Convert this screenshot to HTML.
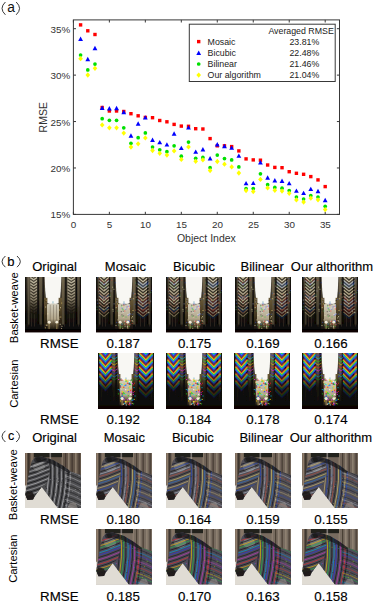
<!DOCTYPE html>
<html><head><meta charset="utf-8"><style>
html,body{margin:0;padding:0;background:#fff;}
body{width:375px;height:602px;position:relative;overflow:hidden;font-family:"Liberation Sans",sans-serif;color:#111;}
.abs{position:absolute;left:0;top:0;}
.im{position:absolute;display:block;}
.t{position:absolute;white-space:nowrap;line-height:1;}
.k{color:#000;-webkit-text-stroke:0.3px #000;}
</style></head><body>
<svg width="0" height="0" style="position:absolute"><defs><filter id="soft" x="0" y="0" width="1" height="1"><feGaussianBlur stdDeviation="0.45" edgeMode="duplicate"/></filter>
<linearGradient id="gbL" x1="0" y1="0" x2="0" y2="1"><stop offset="0" stop-color="#5a5140"/><stop offset="0.4" stop-color="#3c3528"/><stop offset="0.68" stop-color="#17140f"/><stop offset="1" stop-color="#0a0907"/></linearGradient>
<linearGradient id="gbC" x1="0" y1="0" x2="0" y2="1"><stop offset="0" stop-color="#d4d0c0"/><stop offset="0.6" stop-color="#b0a488"/><stop offset="0.78" stop-color="#5a4e36"/><stop offset="1" stop-color="#1a160e"/></linearGradient>
<linearGradient id="gbT" x1="0" y1="0" x2="0" y2="1"><stop offset="0" stop-color="#6a5a38"/><stop offset="0.6" stop-color="#40341e"/><stop offset="1" stop-color="#181410"/></linearGradient>
<linearGradient id="gbS" x1="0" y1="0" x2="0" y2="1"><stop offset="0" stop-color="#c8c0a8"/><stop offset="0.6" stop-color="#8a806a"/><stop offset="1" stop-color="#2c261b" stop-opacity="0"/></linearGradient>
<linearGradient id="gbD" x1="0" y1="0" x2="0" y2="1"><stop offset="0" stop-color="#0b0a07" stop-opacity="0"/><stop offset="0.45" stop-color="#0b0a07" stop-opacity="0.75"/><stop offset="1" stop-color="#0b0a07" stop-opacity="0.95"/></linearGradient><symbol id="bldo" viewBox="0 0 56 56"><g filter="url(#soft)"><rect width="56" height="56" fill="#0c0b08"/><path d="M0 0H19.6L20.2 14L21 21V56H0Z" fill="url(#gbL)"/><path d="M36.4 0H56V56H35V21L35.8 14Z" fill="url(#gbL)"/><rect x="0" y="0" width="1.6" height="48" fill="#000" opacity="0.75"/><rect x="3.2" y="0" width="1.2" height="48" fill="#8a8068" opacity="0.5"/><rect x="12.3" y="0" width="1.5" height="48" fill="#050403" opacity="0.85"/><rect x="14.5" y="0" width="2.4" height="48" fill="#7a6e55" opacity="0.45"/><rect x="17.5" y="0" width="1.4" height="48" fill="#050403" opacity="0.7"/><rect x="37" y="0" width="2.2" height="48" fill="#8a7c5c" opacity="0.5"/><rect x="40.2" y="0" width="1.4" height="48" fill="#050403" opacity="0.85"/><rect x="50.5" y="0" width="1.6" height="48" fill="#050403" opacity="0.85"/><rect x="52.6" y="0" width="2" height="48" fill="#6a604c" opacity="0.5"/><rect x="54.8" y="0" width="1.2" height="48" fill="#000" opacity="0.75"/><rect x="2.5" y="30" width="1" height="20" fill="#3a3224" opacity="0.6"/><rect x="6" y="30" width="1" height="20" fill="#3a3224" opacity="0.6"/><rect x="9" y="30" width="1" height="20" fill="#3a3224" opacity="0.6"/><rect x="15.5" y="30" width="1" height="20" fill="#3a3224" opacity="0.6"/><rect x="39" y="30" width="1" height="20" fill="#3a3224" opacity="0.6"/><rect x="44" y="30" width="1" height="20" fill="#3a3224" opacity="0.6"/><rect x="48" y="30" width="1" height="20" fill="#3a3224" opacity="0.6"/><rect x="53" y="30" width="1" height="20" fill="#3a3224" opacity="0.6"/><path d="M19.6 0H36.4L35.8 14L35 22L34 26.5L30 27.5L26 27.5L22 26.5L21 22L20.2 14Z" fill="#f8f7f3"/><rect x="19" y="21" width="3.4" height="32" fill="url(#gbT)"/><rect x="33.6" y="21" width="3.4" height="32" fill="url(#gbT)"/><path d="M22 27.5L25 27L28 26.5L31 27L34 27.5V53H22Z" fill="url(#gbC)"/><rect x="27.3" y="24.5" width="1.3" height="2.2" fill="#a8c8d0"/><rect x="23.5" y="46" width="1.2" height="7" fill="#c8b070" opacity="0.6"/><rect x="31.2" y="46" width="1.2" height="7" fill="#c8b070" opacity="0.6"/><rect x="5.3" y="0" width="6.8" height="38" fill="url(#gbS)"/><rect x="42.5" y="0" width="7.6" height="38" fill="url(#gbS)"/><path d="M5.3 -1.0L8.7 1.4L12.1 -1.0" stroke="#1a150e" stroke-width="1.10" fill="none" opacity="0.75"/><path d="M5.3 2.0L8.7 4.4L12.1 2.0" stroke="#1a150e" stroke-width="1.10" fill="none" opacity="0.75"/><path d="M5.3 5.0L8.7 7.4L12.1 5.0" stroke="#1a150e" stroke-width="1.10" fill="none" opacity="0.75"/><path d="M5.3 8.0L8.7 10.4L12.1 8.0" stroke="#1a150e" stroke-width="1.10" fill="none" opacity="0.75"/><path d="M5.3 11.0L8.7 13.4L12.1 11.0" stroke="#1a150e" stroke-width="1.10" fill="none" opacity="0.75"/><path d="M5.3 14.0L8.7 16.4L12.1 14.0" stroke="#1a150e" stroke-width="1.10" fill="none" opacity="0.75"/><path d="M5.3 17.0L8.7 19.4L12.1 17.0" stroke="#1a150e" stroke-width="1.10" fill="none" opacity="0.75"/><path d="M5.3 20.0L8.7 22.4L12.1 20.0" stroke="#1a150e" stroke-width="1.10" fill="none" opacity="0.75"/><path d="M5.3 23.0L8.7 25.4L12.1 23.0" stroke="#1a150e" stroke-width="1.10" fill="none" opacity="0.75"/><path d="M5.3 26.0L8.7 28.4L12.1 26.0" stroke="#1a150e" stroke-width="1.10" fill="none" opacity="0.75"/><path d="M5.3 29.0L8.7 31.4L12.1 29.0" stroke="#1a150e" stroke-width="1.10" fill="none" opacity="0.75"/><path d="M5.3 32.0L8.7 34.4L12.1 32.0" stroke="#1a150e" stroke-width="1.10" fill="none" opacity="0.75"/><path d="M5.3 35.0L8.7 37.4L12.1 35.0" stroke="#1a150e" stroke-width="1.10" fill="none" opacity="0.75"/><path d="M42.5 -1.0L46.3 1.4L50.1 -1.0" stroke="#1a150e" stroke-width="1.10" fill="none" opacity="0.75"/><path d="M42.5 2.0L46.3 4.4L50.1 2.0" stroke="#1a150e" stroke-width="1.10" fill="none" opacity="0.75"/><path d="M42.5 5.0L46.3 7.4L50.1 5.0" stroke="#1a150e" stroke-width="1.10" fill="none" opacity="0.75"/><path d="M42.5 8.0L46.3 10.4L50.1 8.0" stroke="#1a150e" stroke-width="1.10" fill="none" opacity="0.75"/><path d="M42.5 11.0L46.3 13.4L50.1 11.0" stroke="#1a150e" stroke-width="1.10" fill="none" opacity="0.75"/><path d="M42.5 14.0L46.3 16.4L50.1 14.0" stroke="#1a150e" stroke-width="1.10" fill="none" opacity="0.75"/><path d="M42.5 17.0L46.3 19.4L50.1 17.0" stroke="#1a150e" stroke-width="1.10" fill="none" opacity="0.75"/><path d="M42.5 20.0L46.3 22.4L50.1 20.0" stroke="#1a150e" stroke-width="1.10" fill="none" opacity="0.75"/><path d="M42.5 23.0L46.3 25.4L50.1 23.0" stroke="#1a150e" stroke-width="1.10" fill="none" opacity="0.75"/><path d="M42.5 26.0L46.3 28.4L50.1 26.0" stroke="#1a150e" stroke-width="1.10" fill="none" opacity="0.75"/><path d="M42.5 29.0L46.3 31.4L50.1 29.0" stroke="#1a150e" stroke-width="1.10" fill="none" opacity="0.75"/><path d="M42.5 32.0L46.3 34.4L50.1 32.0" stroke="#1a150e" stroke-width="1.10" fill="none" opacity="0.75"/><path d="M42.5 35.0L46.3 37.4L50.1 35.0" stroke="#1a150e" stroke-width="1.10" fill="none" opacity="0.75"/><rect x="24.8" y="28" width="0.8" height="23" fill="#5a5040" opacity="0.45"/><rect x="28" y="28" width="0.8" height="23" fill="#5a5040" opacity="0.45"/><rect x="31" y="28" width="0.8" height="23" fill="#5a5040" opacity="0.45"/><rect x="20.2" y="38.8" width="1.0" height="1.0" fill="#2a2010" opacity="0.70"/><rect x="22.3" y="36.7" width="1.0" height="1.0" fill="#fff0c0" opacity="0.70"/><rect x="19.6" y="23.4" width="1.0" height="1.0" fill="#2a2010" opacity="0.70"/><rect x="20.2" y="29.8" width="1.0" height="1.0" fill="#fff0c0" opacity="0.70"/><rect x="20.9" y="47.3" width="1.0" height="1.0" fill="#2a2010" opacity="0.70"/><rect x="20.7" y="48.0" width="1.0" height="1.0" fill="#e8c870" opacity="0.70"/><rect x="21.4" y="48.2" width="1.0" height="1.0" fill="#fff0c0" opacity="0.70"/><rect x="20.6" y="23.4" width="1.0" height="1.0" fill="#e8c870" opacity="0.70"/><rect x="19.9" y="50.8" width="1.0" height="1.0" fill="#e8c870" opacity="0.70"/><rect x="20.4" y="23.9" width="1.0" height="1.0" fill="#2a2010" opacity="0.70"/><rect x="20.9" y="43.8" width="1.0" height="1.0" fill="#2a2010" opacity="0.70"/><rect x="21.7" y="49.7" width="1.0" height="1.0" fill="#2a2010" opacity="0.70"/><rect x="35.7" y="39.7" width="1.0" height="1.0" fill="#e8c870" opacity="0.70"/><rect x="36.2" y="25.8" width="1.0" height="1.0" fill="#e8c870" opacity="0.70"/><rect x="35.0" y="30.5" width="1.0" height="1.0" fill="#fff0c0" opacity="0.70"/><rect x="34.8" y="41.2" width="1.0" height="1.0" fill="#2a2010" opacity="0.70"/><rect x="34.7" y="47.2" width="1.0" height="1.0" fill="#fff0c0" opacity="0.70"/><rect x="34.5" y="40.0" width="1.0" height="1.0" fill="#fff0c0" opacity="0.70"/><rect x="34.1" y="32.8" width="1.0" height="1.0" fill="#e8c870" opacity="0.70"/><rect x="36.1" y="51.7" width="1.0" height="1.0" fill="#fff0c0" opacity="0.70"/><rect x="35.6" y="43.3" width="1.0" height="1.0" fill="#2a2010" opacity="0.70"/><rect x="36.5" y="49.2" width="1.0" height="1.0" fill="#fff0c0" opacity="0.70"/><rect x="33.7" y="42.0" width="1.0" height="1.0" fill="#fff0c0" opacity="0.70"/><rect x="36.1" y="39.6" width="1.0" height="1.0" fill="#2a2010" opacity="0.70"/><circle cx="24.2" cy="45.6" r="1.5" fill="#fffae8" opacity="0.9"/><circle cx="31.8" cy="45.6" r="1.4" fill="#fffae8" opacity="0.9"/><rect x="0" y="52.5" width="56" height="3.5" fill="#070605"/></g></symbol><symbol id="bldb" viewBox="0 0 56 56"><g filter="url(#soft)"><rect width="56" height="56" fill="#0c0b08"/><path d="M0 0H19.6L20.2 14L21 21V56H0Z" fill="url(#gbL)"/><path d="M36.4 0H56V56H35V21L35.8 14Z" fill="url(#gbL)"/><rect x="0" y="0" width="1.6" height="48" fill="#000" opacity="0.75"/><rect x="3.2" y="0" width="1.2" height="48" fill="#8a8068" opacity="0.5"/><rect x="12.3" y="0" width="1.5" height="48" fill="#050403" opacity="0.85"/><rect x="14.5" y="0" width="2.4" height="48" fill="#7a6e55" opacity="0.45"/><rect x="17.5" y="0" width="1.4" height="48" fill="#050403" opacity="0.7"/><rect x="37" y="0" width="2.2" height="48" fill="#8a7c5c" opacity="0.5"/><rect x="40.2" y="0" width="1.4" height="48" fill="#050403" opacity="0.85"/><rect x="50.5" y="0" width="1.6" height="48" fill="#050403" opacity="0.85"/><rect x="52.6" y="0" width="2" height="48" fill="#6a604c" opacity="0.5"/><rect x="54.8" y="0" width="1.2" height="48" fill="#000" opacity="0.75"/><rect x="2.5" y="30" width="1" height="20" fill="#3a3224" opacity="0.6"/><rect x="6" y="30" width="1" height="20" fill="#3a3224" opacity="0.6"/><rect x="9" y="30" width="1" height="20" fill="#3a3224" opacity="0.6"/><rect x="15.5" y="30" width="1" height="20" fill="#3a3224" opacity="0.6"/><rect x="39" y="30" width="1" height="20" fill="#3a3224" opacity="0.6"/><rect x="44" y="30" width="1" height="20" fill="#3a3224" opacity="0.6"/><rect x="48" y="30" width="1" height="20" fill="#3a3224" opacity="0.6"/><rect x="53" y="30" width="1" height="20" fill="#3a3224" opacity="0.6"/><path d="M19.6 0H36.4L35.8 14L35 22L34 26.5L30 27.5L26 27.5L22 26.5L21 22L20.2 14Z" fill="#f8f7f3"/><rect x="19" y="21" width="3.4" height="32" fill="url(#gbT)"/><rect x="33.6" y="21" width="3.4" height="32" fill="url(#gbT)"/><path d="M22 27.5L25 27L28 26.5L31 27L34 27.5V53H22Z" fill="url(#gbC)"/><rect x="27.3" y="24.5" width="1.3" height="2.2" fill="#a8c8d0"/><rect x="23.5" y="46" width="1.2" height="7" fill="#c8b070" opacity="0.6"/><rect x="31.2" y="46" width="1.2" height="7" fill="#c8b070" opacity="0.6"/><rect x="4" y="0" width="8.6" height="38" fill="url(#gbS)"/><rect x="42" y="0" width="9" height="40" fill="url(#gbS)"/><path d="M3.0 -3.0L8.0 1.5L13.0 -3.0" stroke="#f0f0d0" stroke-width="1.20" fill="none" opacity="0.45"/><path d="M3.0 0.2L8.0 4.7L13.0 0.2" stroke="#d8c890" stroke-width="1.20" fill="none" opacity="0.45"/><path d="M3.0 3.4L8.0 7.9L13.0 3.4" stroke="#90a8d0" stroke-width="1.20" fill="none" opacity="0.45"/><path d="M3.0 6.6L8.0 11.1L13.0 6.6" stroke="#a0c890" stroke-width="1.20" fill="none" opacity="0.45"/><path d="M3.0 9.8L8.0 14.3L13.0 9.8" stroke="#e0d8b8" stroke-width="1.20" fill="none" opacity="0.45"/><path d="M3.0 13.0L8.0 17.5L13.0 13.0" stroke="#e0d8b8" stroke-width="1.20" fill="none" opacity="0.45"/><path d="M3.0 16.2L8.0 20.7L13.0 16.2" stroke="#d09070" stroke-width="1.20" fill="none" opacity="0.45"/><path d="M3.0 19.4L8.0 23.9L13.0 19.4" stroke="#e0d8b8" stroke-width="1.20" fill="none" opacity="0.45"/><path d="M3.0 22.6L8.0 27.1L13.0 22.6" stroke="#f0f0d0" stroke-width="1.20" fill="none" opacity="0.45"/><path d="M3.0 25.8L8.0 30.3L13.0 25.8" stroke="#d09070" stroke-width="1.20" fill="none" opacity="0.45"/><path d="M3.0 29.0L8.0 33.5L13.0 29.0" stroke="#e0d8b8" stroke-width="1.20" fill="none" opacity="0.45"/><path d="M3.0 32.2L8.0 36.7L13.0 32.2" stroke="#d09070" stroke-width="1.20" fill="none" opacity="0.45"/><path d="M3.0 35.4L8.0 39.9L13.0 35.4" stroke="#d8c890" stroke-width="1.20" fill="none" opacity="0.45"/><path d="M41.5 -3.0L47.0 1.5L52.5 -3.0" stroke="#e0d8b8" stroke-width="1.20" fill="none" opacity="0.45"/><path d="M41.5 0.2L47.0 4.7L52.5 0.2" stroke="#e0d8b8" stroke-width="1.20" fill="none" opacity="0.45"/><path d="M41.5 3.4L47.0 7.9L52.5 3.4" stroke="#90a8d0" stroke-width="1.20" fill="none" opacity="0.45"/><path d="M41.5 6.6L47.0 11.1L52.5 6.6" stroke="#90a8d0" stroke-width="1.20" fill="none" opacity="0.45"/><path d="M41.5 9.8L47.0 14.3L52.5 9.8" stroke="#e0d8b8" stroke-width="1.20" fill="none" opacity="0.45"/><path d="M41.5 13.0L47.0 17.5L52.5 13.0" stroke="#d8c890" stroke-width="1.20" fill="none" opacity="0.45"/><path d="M41.5 16.2L47.0 20.7L52.5 16.2" stroke="#e0d8b8" stroke-width="1.20" fill="none" opacity="0.45"/><path d="M41.5 19.4L47.0 23.9L52.5 19.4" stroke="#d09070" stroke-width="1.20" fill="none" opacity="0.45"/><path d="M41.5 22.6L47.0 27.1L52.5 22.6" stroke="#90a8d0" stroke-width="1.20" fill="none" opacity="0.45"/><path d="M41.5 25.8L47.0 30.3L52.5 25.8" stroke="#e0d8b8" stroke-width="1.20" fill="none" opacity="0.45"/><path d="M41.5 29.0L47.0 33.5L52.5 29.0" stroke="#d09070" stroke-width="1.20" fill="none" opacity="0.45"/><path d="M41.5 32.2L47.0 36.7L52.5 32.2" stroke="#e0d8b8" stroke-width="1.20" fill="none" opacity="0.45"/><path d="M41.5 35.4L47.0 39.9L52.5 35.4" stroke="#d8c890" stroke-width="1.20" fill="none" opacity="0.45"/><path d="M3.0 -1.4L8.0 3.1L13.0 -1.4" stroke="#120e08" stroke-width="1.30" fill="none" opacity="0.75"/><path d="M3.0 1.8L8.0 6.3L13.0 1.8" stroke="#401010" stroke-width="1.30" fill="none" opacity="0.75"/><path d="M3.0 5.0L8.0 9.5L13.0 5.0" stroke="#120e08" stroke-width="1.30" fill="none" opacity="0.75"/><path d="M3.0 8.2L8.0 12.7L13.0 8.2" stroke="#201810" stroke-width="1.30" fill="none" opacity="0.75"/><path d="M3.0 11.4L8.0 15.9L13.0 11.4" stroke="#120e08" stroke-width="1.30" fill="none" opacity="0.75"/><path d="M3.0 14.6L8.0 19.1L13.0 14.6" stroke="#201810" stroke-width="1.30" fill="none" opacity="0.75"/><path d="M3.0 17.8L8.0 22.3L13.0 17.8" stroke="#102040" stroke-width="1.30" fill="none" opacity="0.75"/><path d="M3.0 21.0L8.0 25.5L13.0 21.0" stroke="#401010" stroke-width="1.30" fill="none" opacity="0.75"/><path d="M3.0 24.2L8.0 28.7L13.0 24.2" stroke="#201810" stroke-width="1.30" fill="none" opacity="0.75"/><path d="M3.0 27.4L8.0 31.9L13.0 27.4" stroke="#120e08" stroke-width="1.30" fill="none" opacity="0.75"/><path d="M3.0 30.6L8.0 35.1L13.0 30.6" stroke="#102040" stroke-width="1.30" fill="none" opacity="0.75"/><path d="M3.0 33.8L8.0 38.3L13.0 33.8" stroke="#201810" stroke-width="1.30" fill="none" opacity="0.75"/><path d="M41.5 -1.4L47.0 3.1L52.5 -1.4" stroke="#120e08" stroke-width="1.30" fill="none" opacity="0.75"/><path d="M41.5 1.8L47.0 6.3L52.5 1.8" stroke="#201810" stroke-width="1.30" fill="none" opacity="0.75"/><path d="M41.5 5.0L47.0 9.5L52.5 5.0" stroke="#102040" stroke-width="1.30" fill="none" opacity="0.75"/><path d="M41.5 8.2L47.0 12.7L52.5 8.2" stroke="#120e08" stroke-width="1.30" fill="none" opacity="0.75"/><path d="M41.5 11.4L47.0 15.9L52.5 11.4" stroke="#120e08" stroke-width="1.30" fill="none" opacity="0.75"/><path d="M41.5 14.6L47.0 19.1L52.5 14.6" stroke="#120e08" stroke-width="1.30" fill="none" opacity="0.75"/><path d="M41.5 17.8L47.0 22.3L52.5 17.8" stroke="#201810" stroke-width="1.30" fill="none" opacity="0.75"/><path d="M41.5 21.0L47.0 25.5L52.5 21.0" stroke="#401010" stroke-width="1.30" fill="none" opacity="0.75"/><path d="M41.5 24.2L47.0 28.7L52.5 24.2" stroke="#401010" stroke-width="1.30" fill="none" opacity="0.75"/><path d="M41.5 27.4L47.0 31.9L52.5 27.4" stroke="#102040" stroke-width="1.30" fill="none" opacity="0.75"/><path d="M41.5 30.6L47.0 35.1L52.5 30.6" stroke="#401010" stroke-width="1.30" fill="none" opacity="0.75"/><path d="M41.5 33.8L47.0 38.3L52.5 33.8" stroke="#401010" stroke-width="1.30" fill="none" opacity="0.75"/><path d="M41.5 37.0L47.0 41.5L52.5 37.0" stroke="#102040" stroke-width="1.30" fill="none" opacity="0.75"/><rect x="5.8" y="27.0" width="1.2" height="1.2" fill="#181818" opacity="0.45"/><rect x="15.2" y="2.8" width="1.2" height="1.2" fill="#c04838" opacity="0.45"/><rect x="10.2" y="29.8" width="1.2" height="1.2" fill="#181818" opacity="0.45"/><rect x="8.8" y="20.7" width="1.2" height="1.2" fill="#d8c890" opacity="0.45"/><rect x="2.3" y="14.2" width="1.2" height="1.2" fill="#a0a0c0" opacity="0.45"/><rect x="6.7" y="31.7" width="1.2" height="1.2" fill="#e8e8b0" opacity="0.45"/><rect x="0.8" y="22.7" width="1.2" height="1.2" fill="#a0a0c0" opacity="0.45"/><rect x="10.9" y="26.8" width="1.2" height="1.2" fill="#a0a0c0" opacity="0.45"/><rect x="6.1" y="23.6" width="1.2" height="1.2" fill="#40a060" opacity="0.45"/><rect x="9.7" y="27.1" width="1.2" height="1.2" fill="#d8c890" opacity="0.45"/><rect x="16.4" y="32.1" width="1.2" height="1.2" fill="#e8e8b0" opacity="0.45"/><rect x="13.6" y="2.2" width="1.2" height="1.2" fill="#181818" opacity="0.45"/><rect x="13.7" y="22.0" width="1.2" height="1.2" fill="#181818" opacity="0.45"/><rect x="16.0" y="9.7" width="1.2" height="1.2" fill="#e8e8b0" opacity="0.45"/><rect x="17.3" y="11.8" width="1.2" height="1.2" fill="#e8e8b0" opacity="0.45"/><rect x="6.9" y="20.8" width="1.2" height="1.2" fill="#e8e8b0" opacity="0.45"/><rect x="1.1" y="26.1" width="1.2" height="1.2" fill="#3050b0" opacity="0.45"/><rect x="14.4" y="13.5" width="1.2" height="1.2" fill="#a0a0c0" opacity="0.45"/><rect x="9.7" y="5.7" width="1.2" height="1.2" fill="#e8e8b0" opacity="0.45"/><rect x="10.7" y="30.0" width="1.2" height="1.2" fill="#a0a0c0" opacity="0.45"/><rect x="8.4" y="18.7" width="1.2" height="1.2" fill="#181818" opacity="0.45"/><rect x="8.1" y="12.2" width="1.2" height="1.2" fill="#e8e8b0" opacity="0.45"/><rect x="18.7" y="5.1" width="1.2" height="1.2" fill="#3050b0" opacity="0.45"/><rect x="3.0" y="22.4" width="1.2" height="1.2" fill="#d8c890" opacity="0.45"/><rect x="9.5" y="20.0" width="1.2" height="1.2" fill="#c04838" opacity="0.45"/><rect x="5.5" y="5.0" width="1.2" height="1.2" fill="#40a060" opacity="0.45"/><rect x="7.2" y="19.3" width="1.2" height="1.2" fill="#3050b0" opacity="0.45"/><rect x="13.5" y="17.5" width="1.2" height="1.2" fill="#40a060" opacity="0.45"/><rect x="12.8" y="25.2" width="1.2" height="1.2" fill="#e8e8b0" opacity="0.45"/><rect x="17.5" y="26.5" width="1.2" height="1.2" fill="#a0a0c0" opacity="0.45"/><rect x="13.3" y="19.0" width="1.2" height="1.2" fill="#e8e8b0" opacity="0.45"/><rect x="7.8" y="3.5" width="1.2" height="1.2" fill="#181818" opacity="0.45"/><rect x="7.8" y="6.5" width="1.2" height="1.2" fill="#3050b0" opacity="0.45"/><rect x="8.6" y="3.7" width="1.2" height="1.2" fill="#40a060" opacity="0.45"/><rect x="1.0" y="0.0" width="1.2" height="1.2" fill="#3050b0" opacity="0.45"/><rect x="10.5" y="32.3" width="1.2" height="1.2" fill="#40a060" opacity="0.45"/><rect x="0.5" y="29.7" width="1.2" height="1.2" fill="#40a060" opacity="0.45"/><rect x="7.3" y="21.6" width="1.2" height="1.2" fill="#c04838" opacity="0.45"/><rect x="11.7" y="16.1" width="1.2" height="1.2" fill="#d8c890" opacity="0.45"/><rect x="16.6" y="33.8" width="1.2" height="1.2" fill="#e8e8b0" opacity="0.45"/><rect x="9.4" y="10.6" width="1.2" height="1.2" fill="#3050b0" opacity="0.45"/><rect x="2.0" y="11.6" width="1.2" height="1.2" fill="#c04838" opacity="0.45"/><rect x="9.3" y="23.5" width="1.2" height="1.2" fill="#40a060" opacity="0.45"/><rect x="0.5" y="32.3" width="1.2" height="1.2" fill="#40a060" opacity="0.45"/><rect x="7.1" y="23.5" width="1.2" height="1.2" fill="#d8c890" opacity="0.45"/><rect x="51.3" y="10.7" width="1.2" height="1.2" fill="#181818" opacity="0.45"/><rect x="53.3" y="25.1" width="1.2" height="1.2" fill="#c04838" opacity="0.45"/><rect x="46.6" y="32.7" width="1.2" height="1.2" fill="#c04838" opacity="0.45"/><rect x="51.6" y="19.2" width="1.2" height="1.2" fill="#a0a0c0" opacity="0.45"/><rect x="46.3" y="22.9" width="1.2" height="1.2" fill="#40a060" opacity="0.45"/><rect x="52.3" y="35.5" width="1.2" height="1.2" fill="#a0a0c0" opacity="0.45"/><rect x="40.3" y="8.6" width="1.2" height="1.2" fill="#e8e8b0" opacity="0.45"/><rect x="50.9" y="8.2" width="1.2" height="1.2" fill="#40a060" opacity="0.45"/><rect x="46.1" y="26.3" width="1.2" height="1.2" fill="#d8c890" opacity="0.45"/><rect x="51.9" y="17.0" width="1.2" height="1.2" fill="#3050b0" opacity="0.45"/><rect x="50.0" y="34.4" width="1.2" height="1.2" fill="#e8e8b0" opacity="0.45"/><rect x="52.3" y="26.0" width="1.2" height="1.2" fill="#c04838" opacity="0.45"/><rect x="55.1" y="13.1" width="1.2" height="1.2" fill="#3050b0" opacity="0.45"/><rect x="38.5" y="16.9" width="1.2" height="1.2" fill="#c04838" opacity="0.45"/><rect x="40.5" y="22.5" width="1.2" height="1.2" fill="#40a060" opacity="0.45"/><rect x="52.9" y="17.3" width="1.2" height="1.2" fill="#181818" opacity="0.45"/><rect x="43.2" y="23.2" width="1.2" height="1.2" fill="#a0a0c0" opacity="0.45"/><rect x="49.4" y="32.8" width="1.2" height="1.2" fill="#a0a0c0" opacity="0.45"/><rect x="50.4" y="7.2" width="1.2" height="1.2" fill="#3050b0" opacity="0.45"/><rect x="45.0" y="22.9" width="1.2" height="1.2" fill="#d8c890" opacity="0.45"/><rect x="52.1" y="35.0" width="1.2" height="1.2" fill="#e8e8b0" opacity="0.45"/><rect x="45.5" y="26.8" width="1.2" height="1.2" fill="#d8c890" opacity="0.45"/><rect x="50.6" y="6.1" width="1.2" height="1.2" fill="#3050b0" opacity="0.45"/><rect x="37.0" y="21.3" width="1.2" height="1.2" fill="#e8e8b0" opacity="0.45"/><rect x="52.2" y="5.3" width="1.2" height="1.2" fill="#a0a0c0" opacity="0.45"/><rect x="48.1" y="17.1" width="1.2" height="1.2" fill="#c04838" opacity="0.45"/><rect x="39.5" y="19.7" width="1.2" height="1.2" fill="#d8c890" opacity="0.45"/><rect x="36.8" y="35.0" width="1.2" height="1.2" fill="#181818" opacity="0.45"/><rect x="38.5" y="27.0" width="1.2" height="1.2" fill="#3050b0" opacity="0.45"/><rect x="45.0" y="31.4" width="1.2" height="1.2" fill="#a0a0c0" opacity="0.45"/><rect x="53.5" y="1.0" width="1.2" height="1.2" fill="#3050b0" opacity="0.45"/><rect x="42.2" y="8.7" width="1.2" height="1.2" fill="#40a060" opacity="0.45"/><rect x="42.9" y="19.6" width="1.2" height="1.2" fill="#a0a0c0" opacity="0.45"/><rect x="39.1" y="32.8" width="1.2" height="1.2" fill="#c04838" opacity="0.45"/><rect x="54.0" y="23.8" width="1.2" height="1.2" fill="#a0a0c0" opacity="0.45"/><rect x="54.1" y="15.1" width="1.2" height="1.2" fill="#40a060" opacity="0.45"/><rect x="39.0" y="5.5" width="1.2" height="1.2" fill="#40a060" opacity="0.45"/><rect x="36.9" y="15.8" width="1.2" height="1.2" fill="#3050b0" opacity="0.45"/><rect x="48.4" y="27.9" width="1.2" height="1.2" fill="#3050b0" opacity="0.45"/><rect x="39.9" y="17.0" width="1.2" height="1.2" fill="#181818" opacity="0.45"/><rect x="38.8" y="2.2" width="1.2" height="1.2" fill="#181818" opacity="0.45"/><rect x="46.6" y="20.0" width="1.2" height="1.2" fill="#a0a0c0" opacity="0.45"/><rect x="51.6" y="31.8" width="1.2" height="1.2" fill="#d8c890" opacity="0.45"/><rect x="41.3" y="10.0" width="1.2" height="1.2" fill="#a0a0c0" opacity="0.45"/><rect x="38.4" y="16.3" width="1.2" height="1.2" fill="#d8c890" opacity="0.45"/><rect x="30.8" y="49.7" width="1.2" height="1.2" fill="#ffffff" opacity="0.55"/><rect x="26.1" y="51.3" width="1.2" height="1.2" fill="#e0d0a0" opacity="0.55"/><rect x="28.1" y="44.0" width="1.2" height="1.2" fill="#ffffff" opacity="0.55"/><rect x="28.1" y="47.0" width="1.2" height="1.2" fill="#e0d0a0" opacity="0.55"/><rect x="32.8" y="44.2" width="1.2" height="1.2" fill="#4060ff" opacity="0.55"/><rect x="32.6" y="49.2" width="1.2" height="1.2" fill="#40c040" opacity="0.55"/><rect x="31.7" y="29.6" width="1.2" height="1.2" fill="#ff4040" opacity="0.55"/><rect x="26.8" y="34.2" width="1.2" height="1.2" fill="#404040" opacity="0.55"/><rect x="25.2" y="27.9" width="1.2" height="1.2" fill="#404040" opacity="0.55"/><rect x="25.9" y="29.2" width="1.2" height="1.2" fill="#ffe060" opacity="0.55"/><rect x="24.3" y="44.6" width="1.2" height="1.2" fill="#404040" opacity="0.55"/><rect x="26.6" y="32.6" width="1.2" height="1.2" fill="#40c040" opacity="0.55"/><rect x="33.0" y="31.7" width="1.2" height="1.2" fill="#ff4040" opacity="0.55"/><rect x="26.9" y="38.7" width="1.2" height="1.2" fill="#404040" opacity="0.55"/><rect x="31.6" y="30.2" width="1.2" height="1.2" fill="#ffffff" opacity="0.55"/><rect x="33.3" y="36.5" width="1.2" height="1.2" fill="#ffffff" opacity="0.55"/><rect x="24.7" y="34.3" width="1.2" height="1.2" fill="#404040" opacity="0.55"/><rect x="26.6" y="34.8" width="1.2" height="1.2" fill="#ffffff" opacity="0.55"/><rect x="27.4" y="26.5" width="1.2" height="1.2" fill="#4060ff" opacity="0.55"/><rect x="28.2" y="33.7" width="1.2" height="1.2" fill="#ff4040" opacity="0.55"/><rect x="23.8" y="49.9" width="1.2" height="1.2" fill="#40c040" opacity="0.55"/><rect x="33.1" y="28.7" width="1.2" height="1.2" fill="#4060ff" opacity="0.55"/><rect x="25.5" y="49.6" width="1.2" height="1.2" fill="#40c040" opacity="0.55"/><rect x="25.5" y="29.4" width="1.2" height="1.2" fill="#ffffff" opacity="0.55"/><rect x="31.8" y="43.6" width="1.2" height="1.2" fill="#4060ff" opacity="0.55"/><rect x="27.0" y="40.0" width="1.2" height="1.2" fill="#e0d0a0" opacity="0.55"/><rect x="28.8" y="44.2" width="1.2" height="1.2" fill="#ff4040" opacity="0.55"/><rect x="25.6" y="46.8" width="1.2" height="1.2" fill="#40c040" opacity="0.55"/><rect x="27.2" y="27.9" width="1.2" height="1.2" fill="#ff4040" opacity="0.55"/><rect x="29.5" y="46.8" width="1.2" height="1.2" fill="#ff4040" opacity="0.55"/><rect x="29.2" y="31.8" width="1.2" height="1.2" fill="#4060ff" opacity="0.55"/><rect x="31.9" y="37.8" width="1.2" height="1.2" fill="#4060ff" opacity="0.55"/><rect x="33.3" y="36.9" width="1.2" height="1.2" fill="#4060ff" opacity="0.55"/><rect x="29.3" y="27.1" width="1.2" height="1.2" fill="#404040" opacity="0.55"/><rect x="25.2" y="28.8" width="1.2" height="1.2" fill="#40c040" opacity="0.55"/><rect x="25.4" y="30.7" width="1.2" height="1.2" fill="#4060ff" opacity="0.55"/><rect x="29.4" y="39.8" width="1.2" height="1.2" fill="#40c040" opacity="0.55"/><rect x="25.7" y="39.0" width="1.2" height="1.2" fill="#40c040" opacity="0.55"/><rect x="25.5" y="46.9" width="1.2" height="1.2" fill="#4060ff" opacity="0.55"/><rect x="23.0" y="26.5" width="1.2" height="1.2" fill="#e0d0a0" opacity="0.55"/><rect x="28.6" y="30.9" width="1.2" height="1.2" fill="#ffffff" opacity="0.55"/><rect x="25.3" y="37.6" width="1.2" height="1.2" fill="#404040" opacity="0.55"/><rect x="31.4" y="37.2" width="1.2" height="1.2" fill="#ffffff" opacity="0.55"/><rect x="28.5" y="49.1" width="1.2" height="1.2" fill="#e0d0a0" opacity="0.55"/><rect x="25.9" y="31.6" width="1.2" height="1.2" fill="#40c040" opacity="0.55"/><rect x="26.3" y="47.6" width="1.2" height="1.2" fill="#404040" opacity="0.55"/><rect x="30.5" y="29.6" width="1.2" height="1.2" fill="#4060ff" opacity="0.55"/><rect x="33.2" y="47.8" width="1.2" height="1.2" fill="#ff4040" opacity="0.55"/><rect x="23.4" y="45.3" width="1.2" height="1.2" fill="#4060ff" opacity="0.55"/><rect x="27.3" y="27.4" width="1.2" height="1.2" fill="#404040" opacity="0.55"/><rect x="22.1" y="48.1" width="1.0" height="1.0" fill="#40a060" opacity="0.70"/><rect x="21.3" y="42.8" width="1.0" height="1.0" fill="#d8c890" opacity="0.70"/><rect x="20.9" y="26.7" width="1.0" height="1.0" fill="#e8c870" opacity="0.70"/><rect x="19.4" y="32.9" width="1.0" height="1.0" fill="#181818" opacity="0.70"/><rect x="22.5" y="38.4" width="1.0" height="1.0" fill="#e8e8b0" opacity="0.70"/><rect x="19.5" y="48.5" width="1.0" height="1.0" fill="#e8e8b0" opacity="0.70"/><rect x="20.5" y="22.0" width="1.0" height="1.0" fill="#a0a0c0" opacity="0.70"/><rect x="19.7" y="30.4" width="1.0" height="1.0" fill="#e8e8b0" opacity="0.70"/><rect x="20.2" y="45.3" width="1.0" height="1.0" fill="#3050b0" opacity="0.70"/><rect x="20.2" y="24.7" width="1.0" height="1.0" fill="#a0a0c0" opacity="0.70"/><rect x="21.3" y="33.8" width="1.0" height="1.0" fill="#40a060" opacity="0.70"/><rect x="20.4" y="29.0" width="1.0" height="1.0" fill="#c04838" opacity="0.70"/><rect x="35.5" y="43.5" width="1.0" height="1.0" fill="#a0a0c0" opacity="0.70"/><rect x="35.8" y="43.6" width="1.0" height="1.0" fill="#e8c870" opacity="0.70"/><rect x="33.9" y="43.7" width="1.0" height="1.0" fill="#c04838" opacity="0.70"/><rect x="33.5" y="47.1" width="1.0" height="1.0" fill="#a0a0c0" opacity="0.70"/><rect x="35.7" y="46.4" width="1.0" height="1.0" fill="#c04838" opacity="0.70"/><rect x="36.3" y="44.6" width="1.0" height="1.0" fill="#d8c890" opacity="0.70"/><rect x="36.0" y="39.5" width="1.0" height="1.0" fill="#e8e8b0" opacity="0.70"/><rect x="33.7" y="23.3" width="1.0" height="1.0" fill="#181818" opacity="0.70"/><rect x="36.5" y="33.3" width="1.0" height="1.0" fill="#e8c870" opacity="0.70"/><rect x="35.2" y="40.8" width="1.0" height="1.0" fill="#e8e8b0" opacity="0.70"/><rect x="35.0" y="22.1" width="1.0" height="1.0" fill="#3050b0" opacity="0.70"/><rect x="35.8" y="37.1" width="1.0" height="1.0" fill="#3050b0" opacity="0.70"/><circle cx="24.2" cy="45.6" r="1.5" fill="#fffae8" opacity="0.9"/><circle cx="31.8" cy="45.6" r="1.4" fill="#fffae8" opacity="0.9"/><rect x="0" y="52.5" width="56" height="3.5" fill="#070605"/></g></symbol><symbol id="bldc" viewBox="0 0 56 56"><g filter="url(#soft)"><rect width="56" height="56" fill="#0c0b08"/><path d="M0 0H19.6L20.2 14L21 21V56H0Z" fill="url(#gbL)"/><path d="M36.4 0H56V56H35V21L35.8 14Z" fill="url(#gbL)"/><rect x="0" y="0" width="1.6" height="48" fill="#000" opacity="0.75"/><rect x="3.2" y="0" width="1.2" height="48" fill="#8a8068" opacity="0.5"/><rect x="12.3" y="0" width="1.5" height="48" fill="#050403" opacity="0.85"/><rect x="14.5" y="0" width="2.4" height="48" fill="#7a6e55" opacity="0.45"/><rect x="17.5" y="0" width="1.4" height="48" fill="#050403" opacity="0.7"/><rect x="37" y="0" width="2.2" height="48" fill="#8a7c5c" opacity="0.5"/><rect x="40.2" y="0" width="1.4" height="48" fill="#050403" opacity="0.85"/><rect x="50.5" y="0" width="1.6" height="48" fill="#050403" opacity="0.85"/><rect x="52.6" y="0" width="2" height="48" fill="#6a604c" opacity="0.5"/><rect x="54.8" y="0" width="1.2" height="48" fill="#000" opacity="0.75"/><rect x="2.5" y="30" width="1" height="20" fill="#3a3224" opacity="0.6"/><rect x="6" y="30" width="1" height="20" fill="#3a3224" opacity="0.6"/><rect x="9" y="30" width="1" height="20" fill="#3a3224" opacity="0.6"/><rect x="15.5" y="30" width="1" height="20" fill="#3a3224" opacity="0.6"/><rect x="39" y="30" width="1" height="20" fill="#3a3224" opacity="0.6"/><rect x="44" y="30" width="1" height="20" fill="#3a3224" opacity="0.6"/><rect x="48" y="30" width="1" height="20" fill="#3a3224" opacity="0.6"/><rect x="53" y="30" width="1" height="20" fill="#3a3224" opacity="0.6"/><path d="M19.6 0H36.4L35.8 14L35 22L34 26.5L30 27.5L26 27.5L22 26.5L21 22L20.2 14Z" fill="#f8f7f3"/><rect x="19" y="21" width="3.4" height="32" fill="url(#gbT)"/><rect x="33.6" y="21" width="3.4" height="32" fill="url(#gbT)"/><path d="M22 27.5L25 27L28 26.5L31 27L34 27.5V53H22Z" fill="url(#gbC)"/><rect x="27.3" y="24.5" width="1.3" height="2.2" fill="#a8c8d0"/><rect x="23.5" y="46" width="1.2" height="7" fill="#c8b070" opacity="0.6"/><rect x="31.2" y="46" width="1.2" height="7" fill="#c8b070" opacity="0.6"/><path d="M1.5 -8.0L7.5 -1.0L13.5 -8.0" stroke="#ff2a2a" stroke-width="1.05" fill="none" opacity="0.92"/><path d="M1.5 -7.0L7.5 0.0L13.5 -7.0" stroke="#f8d820" stroke-width="1.05" fill="none" opacity="0.92"/><path d="M1.5 -6.0L7.5 1.0L13.5 -6.0" stroke="#30e030" stroke-width="1.05" fill="none" opacity="0.92"/><path d="M1.5 -5.0L7.5 2.0L13.5 -5.0" stroke="#10b0ff" stroke-width="1.05" fill="none" opacity="0.92"/><path d="M1.5 -4.0L7.5 3.0L13.5 -4.0" stroke="#3030ff" stroke-width="1.05" fill="none" opacity="0.92"/><path d="M1.5 -1.0L7.5 6.0L13.5 -1.0" stroke="#ff2a2a" stroke-width="1.05" fill="none" opacity="0.92"/><path d="M1.5 0.0L7.5 7.0L13.5 0.0" stroke="#f8d820" stroke-width="1.05" fill="none" opacity="0.92"/><path d="M1.5 1.0L7.5 8.0L13.5 1.0" stroke="#30e030" stroke-width="1.05" fill="none" opacity="0.92"/><path d="M1.5 2.0L7.5 9.0L13.5 2.0" stroke="#10b0ff" stroke-width="1.05" fill="none" opacity="0.92"/><path d="M1.5 3.0L7.5 10.0L13.5 3.0" stroke="#3030ff" stroke-width="1.05" fill="none" opacity="0.92"/><path d="M1.5 6.0L7.5 13.0L13.5 6.0" stroke="#ff2a2a" stroke-width="1.05" fill="none" opacity="0.92"/><path d="M1.5 7.0L7.5 14.0L13.5 7.0" stroke="#f8d820" stroke-width="1.05" fill="none" opacity="0.92"/><path d="M1.5 8.0L7.5 15.0L13.5 8.0" stroke="#30e030" stroke-width="1.05" fill="none" opacity="0.92"/><path d="M1.5 9.0L7.5 16.0L13.5 9.0" stroke="#10b0ff" stroke-width="1.05" fill="none" opacity="0.92"/><path d="M1.5 10.0L7.5 17.0L13.5 10.0" stroke="#3030ff" stroke-width="1.05" fill="none" opacity="0.92"/><path d="M1.5 13.0L7.5 20.0L13.5 13.0" stroke="#ff2a2a" stroke-width="1.05" fill="none" opacity="0.92"/><path d="M1.5 14.0L7.5 21.0L13.5 14.0" stroke="#f8d820" stroke-width="1.05" fill="none" opacity="0.92"/><path d="M1.5 15.0L7.5 22.0L13.5 15.0" stroke="#30e030" stroke-width="1.05" fill="none" opacity="0.92"/><path d="M1.5 16.0L7.5 23.0L13.5 16.0" stroke="#10b0ff" stroke-width="1.05" fill="none" opacity="0.92"/><path d="M1.5 17.0L7.5 24.0L13.5 17.0" stroke="#3030ff" stroke-width="1.05" fill="none" opacity="0.92"/><path d="M1.5 20.0L7.5 27.0L13.5 20.0" stroke="#ff2a2a" stroke-width="1.05" fill="none" opacity="0.92"/><path d="M1.5 21.0L7.5 28.0L13.5 21.0" stroke="#f8d820" stroke-width="1.05" fill="none" opacity="0.92"/><path d="M1.5 22.0L7.5 29.0L13.5 22.0" stroke="#30e030" stroke-width="1.05" fill="none" opacity="0.92"/><path d="M1.5 23.0L7.5 30.0L13.5 23.0" stroke="#10b0ff" stroke-width="1.05" fill="none" opacity="0.92"/><path d="M1.5 24.0L7.5 31.0L13.5 24.0" stroke="#3030ff" stroke-width="1.05" fill="none" opacity="0.92"/><path d="M1.5 27.0L7.5 34.0L13.5 27.0" stroke="#ff2a2a" stroke-width="1.05" fill="none" opacity="0.92"/><path d="M1.5 28.0L7.5 35.0L13.5 28.0" stroke="#f8d820" stroke-width="1.05" fill="none" opacity="0.92"/><path d="M1.5 29.0L7.5 36.0L13.5 29.0" stroke="#30e030" stroke-width="1.05" fill="none" opacity="0.92"/><path d="M1.5 30.0L7.5 37.0L13.5 30.0" stroke="#10b0ff" stroke-width="1.05" fill="none" opacity="0.92"/><path d="M1.5 31.0L7.5 38.0L13.5 31.0" stroke="#3030ff" stroke-width="1.05" fill="none" opacity="0.92"/><path d="M41 -8.0L47.8 -1.0L54.6 -8.0" stroke="#ff2a2a" stroke-width="1.05" fill="none" opacity="0.92"/><path d="M41 -7.0L47.8 0.0L54.6 -7.0" stroke="#f8d820" stroke-width="1.05" fill="none" opacity="0.92"/><path d="M41 -6.0L47.8 1.0L54.6 -6.0" stroke="#30e030" stroke-width="1.05" fill="none" opacity="0.92"/><path d="M41 -5.0L47.8 2.0L54.6 -5.0" stroke="#10b0ff" stroke-width="1.05" fill="none" opacity="0.92"/><path d="M41 -4.0L47.8 3.0L54.6 -4.0" stroke="#3030ff" stroke-width="1.05" fill="none" opacity="0.92"/><path d="M41 -1.0L47.8 6.0L54.6 -1.0" stroke="#ff2a2a" stroke-width="1.05" fill="none" opacity="0.92"/><path d="M41 0.0L47.8 7.0L54.6 0.0" stroke="#f8d820" stroke-width="1.05" fill="none" opacity="0.92"/><path d="M41 1.0L47.8 8.0L54.6 1.0" stroke="#30e030" stroke-width="1.05" fill="none" opacity="0.92"/><path d="M41 2.0L47.8 9.0L54.6 2.0" stroke="#10b0ff" stroke-width="1.05" fill="none" opacity="0.92"/><path d="M41 3.0L47.8 10.0L54.6 3.0" stroke="#3030ff" stroke-width="1.05" fill="none" opacity="0.92"/><path d="M41 6.0L47.8 13.0L54.6 6.0" stroke="#ff2a2a" stroke-width="1.05" fill="none" opacity="0.92"/><path d="M41 7.0L47.8 14.0L54.6 7.0" stroke="#f8d820" stroke-width="1.05" fill="none" opacity="0.92"/><path d="M41 8.0L47.8 15.0L54.6 8.0" stroke="#30e030" stroke-width="1.05" fill="none" opacity="0.92"/><path d="M41 9.0L47.8 16.0L54.6 9.0" stroke="#10b0ff" stroke-width="1.05" fill="none" opacity="0.92"/><path d="M41 10.0L47.8 17.0L54.6 10.0" stroke="#3030ff" stroke-width="1.05" fill="none" opacity="0.92"/><path d="M41 13.0L47.8 20.0L54.6 13.0" stroke="#ff2a2a" stroke-width="1.05" fill="none" opacity="0.92"/><path d="M41 14.0L47.8 21.0L54.6 14.0" stroke="#f8d820" stroke-width="1.05" fill="none" opacity="0.92"/><path d="M41 15.0L47.8 22.0L54.6 15.0" stroke="#30e030" stroke-width="1.05" fill="none" opacity="0.92"/><path d="M41 16.0L47.8 23.0L54.6 16.0" stroke="#10b0ff" stroke-width="1.05" fill="none" opacity="0.92"/><path d="M41 17.0L47.8 24.0L54.6 17.0" stroke="#3030ff" stroke-width="1.05" fill="none" opacity="0.92"/><path d="M41 20.0L47.8 27.0L54.6 20.0" stroke="#ff2a2a" stroke-width="1.05" fill="none" opacity="0.92"/><path d="M41 21.0L47.8 28.0L54.6 21.0" stroke="#f8d820" stroke-width="1.05" fill="none" opacity="0.92"/><path d="M41 22.0L47.8 29.0L54.6 22.0" stroke="#30e030" stroke-width="1.05" fill="none" opacity="0.92"/><path d="M41 23.0L47.8 30.0L54.6 23.0" stroke="#10b0ff" stroke-width="1.05" fill="none" opacity="0.92"/><path d="M41 24.0L47.8 31.0L54.6 24.0" stroke="#3030ff" stroke-width="1.05" fill="none" opacity="0.92"/><path d="M41 27.0L47.8 34.0L54.6 27.0" stroke="#ff2a2a" stroke-width="1.05" fill="none" opacity="0.92"/><path d="M41 28.0L47.8 35.0L54.6 28.0" stroke="#f8d820" stroke-width="1.05" fill="none" opacity="0.92"/><path d="M41 29.0L47.8 36.0L54.6 29.0" stroke="#30e030" stroke-width="1.05" fill="none" opacity="0.92"/><path d="M41 30.0L47.8 37.0L54.6 30.0" stroke="#10b0ff" stroke-width="1.05" fill="none" opacity="0.92"/><path d="M41 31.0L47.8 38.0L54.6 31.0" stroke="#3030ff" stroke-width="1.05" fill="none" opacity="0.92"/><path d="M41 34.0L47.8 41.0L54.6 34.0" stroke="#ff2a2a" stroke-width="1.05" fill="none" opacity="0.92"/><path d="M41 35.0L47.8 42.0L54.6 35.0" stroke="#f8d820" stroke-width="1.05" fill="none" opacity="0.92"/><path d="M41 36.0L47.8 43.0L54.6 36.0" stroke="#30e030" stroke-width="1.05" fill="none" opacity="0.92"/><path d="M41 37.0L47.8 44.0L54.6 37.0" stroke="#10b0ff" stroke-width="1.05" fill="none" opacity="0.92"/><path d="M41 38.0L47.8 45.0L54.6 38.0" stroke="#3030ff" stroke-width="1.05" fill="none" opacity="0.92"/><path d="M13.0 -2.0L16.2 0.0L19.5 -2.0" stroke="#ff20ff" stroke-width="1.00" fill="none" opacity="0.50"/><path d="M13.0 1.0L16.2 3.0L19.5 1.0" stroke="#2020ff" stroke-width="1.00" fill="none" opacity="0.50"/><path d="M13.0 4.0L16.2 6.0L19.5 4.0" stroke="#00d0ff" stroke-width="1.00" fill="none" opacity="0.50"/><path d="M13.0 7.0L16.2 9.0L19.5 7.0" stroke="#20e020" stroke-width="1.00" fill="none" opacity="0.50"/><path d="M13.0 10.0L16.2 12.0L19.5 10.0" stroke="#ffd000" stroke-width="1.00" fill="none" opacity="0.50"/><path d="M13.0 13.0L16.2 15.0L19.5 13.0" stroke="#ff2020" stroke-width="1.00" fill="none" opacity="0.50"/><path d="M13.0 16.0L16.2 18.0L19.5 16.0" stroke="#ff20ff" stroke-width="1.00" fill="none" opacity="0.50"/><path d="M13.0 19.0L16.2 21.0L19.5 19.0" stroke="#2020ff" stroke-width="1.00" fill="none" opacity="0.50"/><path d="M13.0 22.0L16.2 24.0L19.5 22.0" stroke="#00d0ff" stroke-width="1.00" fill="none" opacity="0.50"/><path d="M13.0 25.0L16.2 27.0L19.5 25.0" stroke="#20e020" stroke-width="1.00" fill="none" opacity="0.50"/><path d="M36.5 -2.0L39.0 0.0L41.5 -2.0" stroke="#ff20ff" stroke-width="1.00" fill="none" opacity="0.50"/><path d="M36.5 1.0L39.0 3.0L41.5 1.0" stroke="#2020ff" stroke-width="1.00" fill="none" opacity="0.50"/><path d="M36.5 4.0L39.0 6.0L41.5 4.0" stroke="#00d0ff" stroke-width="1.00" fill="none" opacity="0.50"/><path d="M36.5 7.0L39.0 9.0L41.5 7.0" stroke="#20e020" stroke-width="1.00" fill="none" opacity="0.50"/><path d="M36.5 10.0L39.0 12.0L41.5 10.0" stroke="#ffd000" stroke-width="1.00" fill="none" opacity="0.50"/><path d="M36.5 13.0L39.0 15.0L41.5 13.0" stroke="#ff2020" stroke-width="1.00" fill="none" opacity="0.50"/><path d="M36.5 16.0L39.0 18.0L41.5 16.0" stroke="#ff20ff" stroke-width="1.00" fill="none" opacity="0.50"/><path d="M36.5 19.0L39.0 21.0L41.5 19.0" stroke="#2020ff" stroke-width="1.00" fill="none" opacity="0.50"/><path d="M36.5 22.0L39.0 24.0L41.5 22.0" stroke="#00d0ff" stroke-width="1.00" fill="none" opacity="0.50"/><path d="M36.5 25.0L39.0 27.0L41.5 25.0" stroke="#20e020" stroke-width="1.00" fill="none" opacity="0.50"/><rect x="0" y="18" width="21" height="38" fill="url(#gbD)"/><rect x="35" y="20" width="21" height="36" fill="url(#gbD)"/><rect x="27.5" y="40.6" width="1.3" height="1.3" fill="#e0d0a0" opacity="0.75"/><rect x="27.5" y="48.2" width="1.3" height="1.3" fill="#00d0ff" opacity="0.75"/><rect x="24.6" y="39.3" width="1.3" height="1.3" fill="#20e020" opacity="0.75"/><rect x="23.6" y="33.9" width="1.3" height="1.3" fill="#ffd000" opacity="0.75"/><rect x="28.4" y="49.1" width="1.3" height="1.3" fill="#ff2020" opacity="0.75"/><rect x="29.0" y="36.3" width="1.3" height="1.3" fill="#e0d0a0" opacity="0.75"/><rect x="29.7" y="42.0" width="1.3" height="1.3" fill="#20e020" opacity="0.75"/><rect x="29.3" y="47.6" width="1.3" height="1.3" fill="#ffd000" opacity="0.75"/><rect x="23.2" y="30.9" width="1.3" height="1.3" fill="#00d0ff" opacity="0.75"/><rect x="29.1" y="46.2" width="1.3" height="1.3" fill="#ff20ff" opacity="0.75"/><rect x="27.4" y="47.9" width="1.3" height="1.3" fill="#303030" opacity="0.75"/><rect x="25.1" y="33.6" width="1.3" height="1.3" fill="#ff2020" opacity="0.75"/><rect x="29.8" y="37.9" width="1.3" height="1.3" fill="#2020ff" opacity="0.75"/><rect x="27.0" y="40.3" width="1.3" height="1.3" fill="#ffd000" opacity="0.75"/><rect x="30.2" y="34.2" width="1.3" height="1.3" fill="#00d0ff" opacity="0.75"/><rect x="28.1" y="26.8" width="1.3" height="1.3" fill="#ffd000" opacity="0.75"/><rect x="26.9" y="48.0" width="1.3" height="1.3" fill="#ffffff" opacity="0.75"/><rect x="23.3" y="26.4" width="1.3" height="1.3" fill="#ff2020" opacity="0.75"/><rect x="24.9" y="50.1" width="1.3" height="1.3" fill="#ff2020" opacity="0.75"/><rect x="27.7" y="51.5" width="1.3" height="1.3" fill="#ffffff" opacity="0.75"/><rect x="27.1" y="40.7" width="1.3" height="1.3" fill="#00d0ff" opacity="0.75"/><rect x="31.0" y="33.0" width="1.3" height="1.3" fill="#ffd000" opacity="0.75"/><rect x="26.0" y="26.4" width="1.3" height="1.3" fill="#ffffff" opacity="0.75"/><rect x="30.8" y="29.1" width="1.3" height="1.3" fill="#00d0ff" opacity="0.75"/><rect x="30.2" y="26.3" width="1.3" height="1.3" fill="#e0d0a0" opacity="0.75"/><rect x="31.2" y="30.6" width="1.3" height="1.3" fill="#303030" opacity="0.75"/><rect x="24.6" y="39.2" width="1.3" height="1.3" fill="#20e020" opacity="0.75"/><rect x="27.1" y="36.0" width="1.3" height="1.3" fill="#ffffff" opacity="0.75"/><rect x="27.1" y="31.5" width="1.3" height="1.3" fill="#2020ff" opacity="0.75"/><rect x="31.9" y="51.3" width="1.3" height="1.3" fill="#2020ff" opacity="0.75"/><rect x="33.4" y="26.5" width="1.3" height="1.3" fill="#20e020" opacity="0.75"/><rect x="26.9" y="48.2" width="1.3" height="1.3" fill="#ffd000" opacity="0.75"/><rect x="23.1" y="29.8" width="1.3" height="1.3" fill="#e0d0a0" opacity="0.75"/><rect x="25.4" y="46.1" width="1.3" height="1.3" fill="#ff20ff" opacity="0.75"/><rect x="31.6" y="36.0" width="1.3" height="1.3" fill="#ffd000" opacity="0.75"/><rect x="23.6" y="41.2" width="1.3" height="1.3" fill="#00d0ff" opacity="0.75"/><rect x="22.8" y="35.6" width="1.3" height="1.3" fill="#e0d0a0" opacity="0.75"/><rect x="24.0" y="41.3" width="1.3" height="1.3" fill="#20e020" opacity="0.75"/><rect x="32.0" y="30.8" width="1.3" height="1.3" fill="#20e020" opacity="0.75"/><rect x="26.0" y="31.9" width="1.3" height="1.3" fill="#00d0ff" opacity="0.75"/><rect x="30.4" y="30.1" width="1.3" height="1.3" fill="#303030" opacity="0.75"/><rect x="24.7" y="50.7" width="1.3" height="1.3" fill="#e0d0a0" opacity="0.75"/><rect x="29.1" y="37.0" width="1.3" height="1.3" fill="#ffd000" opacity="0.75"/><rect x="23.8" y="39.3" width="1.3" height="1.3" fill="#2020ff" opacity="0.75"/><rect x="25.2" y="44.3" width="1.3" height="1.3" fill="#2020ff" opacity="0.75"/><rect x="27.1" y="49.5" width="1.3" height="1.3" fill="#e0d0a0" opacity="0.75"/><rect x="25.8" y="30.6" width="1.3" height="1.3" fill="#ffd000" opacity="0.75"/><rect x="24.0" y="38.5" width="1.3" height="1.3" fill="#ffd000" opacity="0.75"/><rect x="25.6" y="49.9" width="1.3" height="1.3" fill="#00d0ff" opacity="0.75"/><rect x="30.7" y="27.8" width="1.3" height="1.3" fill="#ffffff" opacity="0.75"/><rect x="27.4" y="27.6" width="1.3" height="1.3" fill="#20e020" opacity="0.75"/><rect x="25.6" y="39.8" width="1.3" height="1.3" fill="#20e020" opacity="0.75"/><rect x="23.6" y="29.6" width="1.3" height="1.3" fill="#e0d0a0" opacity="0.75"/><rect x="33.2" y="43.1" width="1.3" height="1.3" fill="#303030" opacity="0.75"/><rect x="28.9" y="29.6" width="1.3" height="1.3" fill="#ff2020" opacity="0.75"/><rect x="32.6" y="38.3" width="1.3" height="1.3" fill="#ff20ff" opacity="0.75"/><rect x="30.2" y="51.0" width="1.3" height="1.3" fill="#ff2020" opacity="0.75"/><rect x="29.1" y="27.9" width="1.3" height="1.3" fill="#ffd000" opacity="0.75"/><rect x="30.5" y="34.3" width="1.3" height="1.3" fill="#ffd000" opacity="0.75"/><rect x="23.4" y="40.2" width="1.3" height="1.3" fill="#ff2020" opacity="0.75"/><rect x="32.3" y="45.2" width="1.3" height="1.3" fill="#20e020" opacity="0.75"/><rect x="31.2" y="49.8" width="1.3" height="1.3" fill="#ff20ff" opacity="0.75"/><rect x="23.5" y="38.3" width="1.3" height="1.3" fill="#ffd000" opacity="0.75"/><rect x="32.0" y="36.8" width="1.3" height="1.3" fill="#ff2020" opacity="0.75"/><rect x="31.9" y="40.9" width="1.3" height="1.3" fill="#ffffff" opacity="0.75"/><rect x="26.7" y="26.3" width="1.3" height="1.3" fill="#ffd000" opacity="0.75"/><rect x="23.5" y="42.6" width="1.3" height="1.3" fill="#2020ff" opacity="0.75"/><rect x="32.1" y="44.9" width="1.3" height="1.3" fill="#ffffff" opacity="0.75"/><rect x="32.7" y="44.0" width="1.3" height="1.3" fill="#e0d0a0" opacity="0.75"/><rect x="27.4" y="47.8" width="1.3" height="1.3" fill="#ffd000" opacity="0.75"/><rect x="21.1" y="37.4" width="1.0" height="1.0" fill="#2020ff" opacity="0.80"/><rect x="21.3" y="36.4" width="1.0" height="1.0" fill="#00d0ff" opacity="0.80"/><rect x="22.5" y="25.4" width="1.0" height="1.0" fill="#202020" opacity="0.80"/><rect x="20.2" y="22.3" width="1.0" height="1.0" fill="#2020ff" opacity="0.80"/><rect x="19.9" y="40.4" width="1.0" height="1.0" fill="#20e020" opacity="0.80"/><rect x="21.8" y="32.3" width="1.0" height="1.0" fill="#202020" opacity="0.80"/><rect x="21.0" y="29.2" width="1.0" height="1.0" fill="#e8c870" opacity="0.80"/><rect x="21.5" y="28.0" width="1.0" height="1.0" fill="#e8c870" opacity="0.80"/><rect x="22.0" y="44.6" width="1.0" height="1.0" fill="#00d0ff" opacity="0.80"/><rect x="22.2" y="33.5" width="1.0" height="1.0" fill="#ff20ff" opacity="0.80"/><rect x="20.1" y="26.0" width="1.0" height="1.0" fill="#ff20ff" opacity="0.80"/><rect x="22.1" y="47.5" width="1.0" height="1.0" fill="#ffd000" opacity="0.80"/><rect x="22.4" y="30.3" width="1.0" height="1.0" fill="#20e020" opacity="0.80"/><rect x="19.8" y="36.1" width="1.0" height="1.0" fill="#00d0ff" opacity="0.80"/><rect x="22.1" y="33.5" width="1.0" height="1.0" fill="#202020" opacity="0.80"/><rect x="21.6" y="43.5" width="1.0" height="1.0" fill="#202020" opacity="0.80"/><rect x="34.4" y="46.9" width="1.0" height="1.0" fill="#2020ff" opacity="0.80"/><rect x="36.2" y="23.2" width="1.0" height="1.0" fill="#2020ff" opacity="0.80"/><rect x="35.2" y="31.3" width="1.0" height="1.0" fill="#ff2020" opacity="0.80"/><rect x="35.5" y="34.2" width="1.0" height="1.0" fill="#00d0ff" opacity="0.80"/><rect x="33.5" y="46.9" width="1.0" height="1.0" fill="#00d0ff" opacity="0.80"/><rect x="35.9" y="45.9" width="1.0" height="1.0" fill="#ffd000" opacity="0.80"/><rect x="34.8" y="40.9" width="1.0" height="1.0" fill="#ff20ff" opacity="0.80"/><rect x="36.5" y="42.5" width="1.0" height="1.0" fill="#00d0ff" opacity="0.80"/><rect x="36.0" y="29.7" width="1.0" height="1.0" fill="#ff2020" opacity="0.80"/><rect x="35.8" y="38.0" width="1.0" height="1.0" fill="#ff2020" opacity="0.80"/><rect x="34.0" y="30.2" width="1.0" height="1.0" fill="#ff20ff" opacity="0.80"/><rect x="35.1" y="50.4" width="1.0" height="1.0" fill="#20e020" opacity="0.80"/><rect x="34.7" y="45.8" width="1.0" height="1.0" fill="#00d0ff" opacity="0.80"/><rect x="33.7" y="50.0" width="1.0" height="1.0" fill="#e8c870" opacity="0.80"/><rect x="33.8" y="35.6" width="1.0" height="1.0" fill="#ff2020" opacity="0.80"/><rect x="34.6" y="39.1" width="1.0" height="1.0" fill="#ff20ff" opacity="0.80"/><circle cx="24.2" cy="45.6" r="1.5" fill="#fffae8" opacity="0.9"/><circle cx="31.8" cy="45.6" r="1.4" fill="#fffae8" opacity="0.9"/><rect x="0" y="52.5" width="56" height="3.5" fill="#070605"/></g></symbol><symbol id="zebo" viewBox="0 0 56 56"><g filter="url(#soft)"><rect width="56" height="56" fill="#64564a"/><rect x="0.6" y="0" width="1.6" height="40" fill="#9a8470" opacity="0.75"/><rect x="2.5" y="0" width="2.2" height="40" fill="#2e2620" opacity="0.75"/><rect x="6" y="0" width="2.2" height="40" fill="#8a7868" opacity="0.75"/><rect x="36.5" y="0" width="1.5" height="40" fill="#908272" opacity="0.75"/><rect x="40" y="0" width="1.2" height="40" fill="#3a3028" opacity="0.75"/><rect x="43" y="0" width="1.6" height="40" fill="#9a8c7c" opacity="0.75"/><rect x="46.5" y="0" width="1.3" height="40" fill="#3a3028" opacity="0.75"/><rect x="50" y="0" width="1.6" height="40" fill="#958777" opacity="0.75"/><rect x="53.5" y="0" width="1.3" height="40" fill="#3a3028" opacity="0.75"/><rect x="9" y="0" width="28" height="4.2" fill="#24201e"/><rect x="24.5" y="0" width="1.6" height="6" fill="#b8b0a8" opacity="0.6"/><path d="M0 33L17 33L33 48L56 50V56H0Z" fill="#e0dcd4"/><path d="M5 15L7 8L10 4.5L17 3.5L28 7L38 13L46 19L56 22V56H33L16.6 34.4L9.5 44L8 47.2L2.5 47.5L0.3 42L2.5 29Z" fill="#4e4e50"/><clipPath id="zco"><path d="M5 15L7 8L10 4.5L17 3.5L28 7L38 13L46 19L56 22V56H33L16.6 34.4L9.5 44L8 47.2L2.5 47.5L0.3 42L2.5 29Z"/></clipPath><clipPath id="zfo"><path d="M5 15L7 8L10 4.5L17 3.5L23 8L25 18L22 30L16.6 34.4L9.5 44L8 47.2L2.5 47.5L0.3 42L2.5 29Z"/></clipPath><g clip-path="url(#zco)"><path d="M22.0 4Q26.0 26 19.0 56" stroke="#b8b8bc" stroke-width="0.90" fill="none" opacity="0.85"/><path d="M24.2 4Q28.2 26 21.2 56" stroke="#18181c" stroke-width="0.90" fill="none" opacity="0.85"/><path d="M26.4 4Q30.4 26 23.4 56" stroke="#a0a0a4" stroke-width="0.90" fill="none" opacity="0.85"/><path d="M28.6 4Q32.6 26 25.6 56" stroke="#101012" stroke-width="0.90" fill="none" opacity="0.85"/><path d="M30.8 4Q34.8 26 27.8 56" stroke="#b8b8bc" stroke-width="0.90" fill="none" opacity="0.85"/><path d="M33.0 4Q37.0 26 30.0 56" stroke="#18181c" stroke-width="0.90" fill="none" opacity="0.85"/><path d="M35.2 4Q39.2 26 32.2 56" stroke="#a0a0a4" stroke-width="0.90" fill="none" opacity="0.85"/><path d="M37.4 4Q41.4 26 34.4 56" stroke="#101012" stroke-width="0.90" fill="none" opacity="0.85"/><path d="M39.6 4Q43.6 26 36.6 56" stroke="#b8b8bc" stroke-width="0.90" fill="none" opacity="0.85"/><path d="M41.8 4Q45.8 26 38.8 56" stroke="#18181c" stroke-width="0.90" fill="none" opacity="0.85"/><path d="M44.0 4Q48.0 26 41.0 56" stroke="#a0a0a4" stroke-width="0.90" fill="none" opacity="0.85"/><path d="M40 14.0Q48 16.0 57 21.0" stroke="#18181c" stroke-width="0.81" fill="none" opacity="0.59"/><path d="M40 17.0Q48 19.0 57 24.0" stroke="#a0a0a4" stroke-width="0.81" fill="none" opacity="0.59"/><path d="M40 20.0Q48 22.0 57 27.0" stroke="#101012" stroke-width="0.81" fill="none" opacity="0.59"/><path d="M40 23.0Q48 25.0 57 30.0" stroke="#b8b8bc" stroke-width="0.81" fill="none" opacity="0.59"/><path d="M40 26.0Q48 28.0 57 33.0" stroke="#18181c" stroke-width="0.81" fill="none" opacity="0.59"/><path d="M40 29.0Q48 31.0 57 36.0" stroke="#a0a0a4" stroke-width="0.81" fill="none" opacity="0.59"/><path d="M40 32.0Q48 34.0 57 39.0" stroke="#101012" stroke-width="0.81" fill="none" opacity="0.59"/><path d="M40 35.0Q48 37.0 57 42.0" stroke="#b8b8bc" stroke-width="0.81" fill="none" opacity="0.59"/><path d="M40 38.0Q48 40.0 57 45.0" stroke="#18181c" stroke-width="0.81" fill="none" opacity="0.59"/><path d="M40 41.0Q48 43.0 57 48.0" stroke="#a0a0a4" stroke-width="0.81" fill="none" opacity="0.59"/><path d="M40 44.0Q48 46.0 57 51.0" stroke="#101012" stroke-width="0.81" fill="none" opacity="0.59"/><path d="M40 47.0Q48 49.0 57 54.0" stroke="#b8b8bc" stroke-width="0.81" fill="none" opacity="0.59"/><path d="M40 50.0Q48 52.0 57 57.0" stroke="#18181c" stroke-width="0.81" fill="none" opacity="0.59"/><path d="M40 53.0Q48 55.0 57 60.0" stroke="#a0a0a4" stroke-width="0.81" fill="none" opacity="0.59"/><rect x="37.1" y="42.6" width="1.0" height="1.0" fill="#303030" opacity="0.45"/><rect x="53.1" y="42.5" width="1.0" height="1.0" fill="#606060" opacity="0.45"/><rect x="7.5" y="28.2" width="1.0" height="1.0" fill="#b8b8bc" opacity="0.45"/><rect x="38.4" y="50.8" width="1.0" height="1.0" fill="#101012" opacity="0.45"/><rect x="24.6" y="49.2" width="1.0" height="1.0" fill="#a0a0a4" opacity="0.45"/><rect x="33.2" y="33.8" width="1.0" height="1.0" fill="#101012" opacity="0.45"/><rect x="42.6" y="25.2" width="1.0" height="1.0" fill="#b8b8bc" opacity="0.45"/><rect x="51.8" y="43.8" width="1.0" height="1.0" fill="#b8b8bc" opacity="0.45"/><rect x="44.1" y="7.7" width="1.0" height="1.0" fill="#606060" opacity="0.45"/><rect x="36.9" y="10.6" width="1.0" height="1.0" fill="#101012" opacity="0.45"/><rect x="54.6" y="4.3" width="1.0" height="1.0" fill="#b8b8bc" opacity="0.45"/><rect x="54.0" y="12.6" width="1.0" height="1.0" fill="#b8b8bc" opacity="0.45"/><rect x="20.5" y="54.0" width="1.0" height="1.0" fill="#606060" opacity="0.45"/><rect x="49.8" y="36.5" width="1.0" height="1.0" fill="#b8b8bc" opacity="0.45"/><rect x="53.0" y="39.9" width="1.0" height="1.0" fill="#a0a0a4" opacity="0.45"/><rect x="20.9" y="22.8" width="1.0" height="1.0" fill="#b8b8bc" opacity="0.45"/><rect x="52.8" y="17.7" width="1.0" height="1.0" fill="#18181c" opacity="0.45"/><rect x="21.1" y="35.4" width="1.0" height="1.0" fill="#101012" opacity="0.45"/><rect x="35.8" y="40.8" width="1.0" height="1.0" fill="#101012" opacity="0.45"/><rect x="21.5" y="46.6" width="1.0" height="1.0" fill="#a0a0a4" opacity="0.45"/><rect x="40.8" y="13.6" width="1.0" height="1.0" fill="#a0a0a4" opacity="0.45"/><rect x="41.2" y="7.0" width="1.0" height="1.0" fill="#101012" opacity="0.45"/><rect x="53.5" y="22.6" width="1.0" height="1.0" fill="#a0a0a4" opacity="0.45"/><rect x="6.9" y="45.0" width="1.0" height="1.0" fill="#18181c" opacity="0.45"/><rect x="24.8" y="47.7" width="1.0" height="1.0" fill="#a0a0a4" opacity="0.45"/><rect x="8.3" y="13.4" width="1.0" height="1.0" fill="#b8b8bc" opacity="0.45"/><rect x="12.0" y="16.8" width="1.0" height="1.0" fill="#a0a0a4" opacity="0.45"/><rect x="23.2" y="22.4" width="1.0" height="1.0" fill="#606060" opacity="0.45"/><rect x="18.5" y="28.1" width="1.0" height="1.0" fill="#606060" opacity="0.45"/><rect x="43.4" y="45.5" width="1.0" height="1.0" fill="#18181c" opacity="0.45"/><rect x="7.8" y="53.2" width="1.0" height="1.0" fill="#101012" opacity="0.45"/><rect x="16.4" y="30.7" width="1.0" height="1.0" fill="#18181c" opacity="0.45"/><rect x="51.9" y="21.7" width="1.0" height="1.0" fill="#303030" opacity="0.45"/><rect x="33.3" y="20.2" width="1.0" height="1.0" fill="#18181c" opacity="0.45"/><rect x="21.3" y="45.5" width="1.0" height="1.0" fill="#303030" opacity="0.45"/><rect x="13.4" y="39.8" width="1.0" height="1.0" fill="#a0a0a4" opacity="0.45"/><rect x="14.1" y="6.5" width="1.0" height="1.0" fill="#606060" opacity="0.45"/><rect x="32.7" y="25.1" width="1.0" height="1.0" fill="#b8b8bc" opacity="0.45"/><rect x="43.0" y="21.9" width="1.0" height="1.0" fill="#18181c" opacity="0.45"/><rect x="28.8" y="25.9" width="1.0" height="1.0" fill="#101012" opacity="0.45"/><rect x="55.0" y="37.2" width="1.0" height="1.0" fill="#a0a0a4" opacity="0.45"/><rect x="22.7" y="14.8" width="1.0" height="1.0" fill="#303030" opacity="0.45"/><rect x="34.2" y="10.9" width="1.0" height="1.0" fill="#a0a0a4" opacity="0.45"/><rect x="11.3" y="26.6" width="1.0" height="1.0" fill="#b8b8bc" opacity="0.45"/><rect x="8.9" y="25.9" width="1.0" height="1.0" fill="#b8b8bc" opacity="0.45"/><rect x="28.7" y="56.0" width="1.0" height="1.0" fill="#b8b8bc" opacity="0.45"/><rect x="54.8" y="27.6" width="1.0" height="1.0" fill="#a0a0a4" opacity="0.45"/><rect x="40.4" y="20.5" width="1.0" height="1.0" fill="#18181c" opacity="0.45"/><rect x="20.6" y="25.0" width="1.0" height="1.0" fill="#b8b8bc" opacity="0.45"/><rect x="11.6" y="46.7" width="1.0" height="1.0" fill="#606060" opacity="0.45"/><rect x="54.0" y="36.6" width="1.0" height="1.0" fill="#a0a0a4" opacity="0.45"/><rect x="49.4" y="13.4" width="1.0" height="1.0" fill="#a0a0a4" opacity="0.45"/><rect x="19.6" y="44.7" width="1.0" height="1.0" fill="#606060" opacity="0.45"/><rect x="24.1" y="44.9" width="1.0" height="1.0" fill="#18181c" opacity="0.45"/><rect x="40.7" y="38.5" width="1.0" height="1.0" fill="#18181c" opacity="0.45"/><rect x="24.2" y="40.6" width="1.0" height="1.0" fill="#18181c" opacity="0.45"/><rect x="47.8" y="17.8" width="1.0" height="1.0" fill="#303030" opacity="0.45"/><rect x="41.8" y="53.8" width="1.0" height="1.0" fill="#18181c" opacity="0.45"/><rect x="38.5" y="34.2" width="1.0" height="1.0" fill="#101012" opacity="0.45"/><rect x="29.7" y="44.2" width="1.0" height="1.0" fill="#18181c" opacity="0.45"/><rect x="39.6" y="28.1" width="1.0" height="1.0" fill="#606060" opacity="0.45"/><rect x="38.4" y="45.5" width="1.0" height="1.0" fill="#18181c" opacity="0.45"/><rect x="19.7" y="22.0" width="1.0" height="1.0" fill="#a0a0a4" opacity="0.45"/><rect x="23.5" y="47.8" width="1.0" height="1.0" fill="#303030" opacity="0.45"/><rect x="28.5" y="22.9" width="1.0" height="1.0" fill="#18181c" opacity="0.45"/><rect x="31.9" y="31.5" width="1.0" height="1.0" fill="#b8b8bc" opacity="0.45"/><rect x="15.9" y="22.8" width="1.0" height="1.0" fill="#a0a0a4" opacity="0.45"/><rect x="20.1" y="8.1" width="1.0" height="1.0" fill="#303030" opacity="0.45"/><rect x="42.5" y="12.9" width="1.0" height="1.0" fill="#606060" opacity="0.45"/><rect x="31.8" y="52.7" width="1.0" height="1.0" fill="#18181c" opacity="0.45"/><rect x="37.2" y="44.3" width="1.0" height="1.0" fill="#303030" opacity="0.45"/><rect x="19.5" y="55.8" width="1.0" height="1.0" fill="#b8b8bc" opacity="0.45"/><rect x="14.0" y="26.9" width="1.0" height="1.0" fill="#303030" opacity="0.45"/><rect x="15.0" y="43.5" width="1.0" height="1.0" fill="#b8b8bc" opacity="0.45"/><rect x="37.5" y="6.2" width="1.0" height="1.0" fill="#a0a0a4" opacity="0.45"/><rect x="55.0" y="12.6" width="1.0" height="1.0" fill="#b8b8bc" opacity="0.45"/><rect x="11.5" y="54.3" width="1.0" height="1.0" fill="#a0a0a4" opacity="0.45"/><rect x="15.7" y="5.9" width="1.0" height="1.0" fill="#a0a0a4" opacity="0.45"/><rect x="23.6" y="38.5" width="1.0" height="1.0" fill="#101012" opacity="0.45"/><rect x="35.5" y="16.4" width="1.0" height="1.0" fill="#18181c" opacity="0.45"/><rect x="6.0" y="25.1" width="1.0" height="1.0" fill="#18181c" opacity="0.45"/><rect x="48.8" y="49.1" width="1.0" height="1.0" fill="#303030" opacity="0.45"/><rect x="47.6" y="23.4" width="1.0" height="1.0" fill="#101012" opacity="0.45"/><rect x="33.5" y="19.7" width="1.0" height="1.0" fill="#18181c" opacity="0.45"/><rect x="33.3" y="21.6" width="1.0" height="1.0" fill="#606060" opacity="0.45"/><rect x="20.7" y="22.3" width="1.0" height="1.0" fill="#b8b8bc" opacity="0.45"/><rect x="27.0" y="46.3" width="1.0" height="1.0" fill="#303030" opacity="0.45"/><rect x="32.9" y="28.3" width="1.0" height="1.0" fill="#b8b8bc" opacity="0.45"/><rect x="35.8" y="33.3" width="1.0" height="1.0" fill="#b8b8bc" opacity="0.45"/><rect x="54.4" y="35.6" width="1.0" height="1.0" fill="#18181c" opacity="0.45"/><rect x="47.1" y="38.4" width="1.0" height="1.0" fill="#a0a0a4" opacity="0.45"/><rect x="11.4" y="33.4" width="1.0" height="1.0" fill="#606060" opacity="0.45"/><rect x="33.0" y="20.9" width="1.0" height="1.0" fill="#606060" opacity="0.45"/><rect x="24.8" y="26.4" width="1.0" height="1.0" fill="#b8b8bc" opacity="0.45"/><rect x="30.7" y="28.9" width="1.0" height="1.0" fill="#303030" opacity="0.45"/><rect x="25.0" y="54.0" width="1.0" height="1.0" fill="#b8b8bc" opacity="0.45"/><rect x="35.8" y="17.5" width="1.0" height="1.0" fill="#18181c" opacity="0.45"/><rect x="30.8" y="25.6" width="1.0" height="1.0" fill="#18181c" opacity="0.45"/><rect x="53.3" y="20.0" width="1.0" height="1.0" fill="#18181c" opacity="0.45"/><rect x="13.2" y="5.2" width="1.0" height="1.0" fill="#303030" opacity="0.45"/><rect x="37.1" y="27.1" width="1.0" height="1.0" fill="#18181c" opacity="0.45"/><rect x="8.0" y="11.1" width="1.0" height="1.0" fill="#a0a0a4" opacity="0.45"/><rect x="6.7" y="31.7" width="1.0" height="1.0" fill="#18181c" opacity="0.45"/><rect x="18.2" y="28.7" width="1.0" height="1.0" fill="#101012" opacity="0.45"/><rect x="18.3" y="17.9" width="1.0" height="1.0" fill="#b8b8bc" opacity="0.45"/><rect x="42.1" y="18.9" width="1.0" height="1.0" fill="#a0a0a4" opacity="0.45"/><rect x="36.4" y="28.7" width="1.0" height="1.0" fill="#303030" opacity="0.45"/><rect x="49.2" y="49.8" width="1.0" height="1.0" fill="#101012" opacity="0.45"/><rect x="6.8" y="10.6" width="1.0" height="1.0" fill="#18181c" opacity="0.45"/><rect x="32.7" y="21.5" width="1.0" height="1.0" fill="#18181c" opacity="0.45"/><rect x="42.6" y="5.4" width="1.0" height="1.0" fill="#18181c" opacity="0.45"/><rect x="24.1" y="42.7" width="1.0" height="1.0" fill="#606060" opacity="0.45"/><rect x="12.6" y="4.1" width="1.0" height="1.0" fill="#606060" opacity="0.45"/><rect x="28.8" y="51.7" width="1.0" height="1.0" fill="#303030" opacity="0.45"/><rect x="33.3" y="4.8" width="1.0" height="1.0" fill="#a0a0a4" opacity="0.45"/><rect x="35.7" y="39.8" width="1.0" height="1.0" fill="#303030" opacity="0.45"/><rect x="38.4" y="48.7" width="1.0" height="1.0" fill="#a0a0a4" opacity="0.45"/><rect x="29.8" y="39.5" width="1.0" height="1.0" fill="#303030" opacity="0.45"/><rect x="15.8" y="19.4" width="1.0" height="1.0" fill="#101012" opacity="0.45"/><rect x="21.2" y="4.2" width="1.0" height="1.0" fill="#a0a0a4" opacity="0.45"/><rect x="35.1" y="37.7" width="1.0" height="1.0" fill="#a0a0a4" opacity="0.45"/><rect x="51.5" y="11.4" width="1.0" height="1.0" fill="#a0a0a4" opacity="0.45"/><rect x="40.8" y="50.2" width="1.0" height="1.0" fill="#18181c" opacity="0.45"/><rect x="32.9" y="26.1" width="1.0" height="1.0" fill="#606060" opacity="0.45"/><rect x="46.6" y="7.6" width="1.0" height="1.0" fill="#b8b8bc" opacity="0.45"/><rect x="19.4" y="8.4" width="1.0" height="1.0" fill="#101012" opacity="0.45"/><rect x="39.2" y="5.3" width="1.0" height="1.0" fill="#303030" opacity="0.45"/><rect x="27.5" y="7.6" width="1.0" height="1.0" fill="#a0a0a4" opacity="0.45"/><rect x="41.1" y="6.5" width="1.0" height="1.0" fill="#101012" opacity="0.45"/><rect x="17.0" y="37.6" width="1.0" height="1.0" fill="#101012" opacity="0.45"/><rect x="41.6" y="11.0" width="1.0" height="1.0" fill="#18181c" opacity="0.45"/><rect x="41.3" y="26.8" width="1.0" height="1.0" fill="#b8b8bc" opacity="0.45"/><rect x="36.5" y="25.5" width="1.0" height="1.0" fill="#b8b8bc" opacity="0.45"/><rect x="9.4" y="15.1" width="1.0" height="1.0" fill="#606060" opacity="0.45"/><rect x="11.4" y="23.7" width="1.0" height="1.0" fill="#101012" opacity="0.45"/><rect x="20.0" y="33.7" width="1.0" height="1.0" fill="#101012" opacity="0.45"/><rect x="43.1" y="49.7" width="1.0" height="1.0" fill="#b8b8bc" opacity="0.45"/><rect x="6.5" y="8.8" width="1.0" height="1.0" fill="#303030" opacity="0.45"/><rect x="36.0" y="29.5" width="1.0" height="1.0" fill="#303030" opacity="0.45"/><rect x="24.7" y="6.9" width="1.0" height="1.0" fill="#303030" opacity="0.45"/></g><g clip-path="url(#zfo)"><rect width="56" height="56" fill="#4e4e50"/><ellipse cx="14" cy="14" rx="6" ry="5" fill="#9a9a98" opacity="0.5"/><path d="M-2 14.0Q10 11.0 26 4.0" stroke="#101012" stroke-width="0.85" fill="none" opacity="0.85"/><path d="M-2 16.3Q10 13.3 26 6.3" stroke="#b8b8bc" stroke-width="0.85" fill="none" opacity="0.85"/><path d="M-2 18.6Q10 15.6 26 8.6" stroke="#18181c" stroke-width="0.85" fill="none" opacity="0.85"/><path d="M-2 20.9Q10 17.9 26 10.9" stroke="#a0a0a4" stroke-width="0.85" fill="none" opacity="0.85"/><path d="M-2 23.2Q10 20.2 26 13.2" stroke="#101012" stroke-width="0.85" fill="none" opacity="0.85"/><path d="M-2 25.5Q10 22.5 26 15.5" stroke="#b8b8bc" stroke-width="0.85" fill="none" opacity="0.85"/><path d="M-2 27.8Q10 24.8 26 17.8" stroke="#18181c" stroke-width="0.85" fill="none" opacity="0.85"/><path d="M-2 30.1Q10 27.1 26 20.1" stroke="#a0a0a4" stroke-width="0.85" fill="none" opacity="0.85"/><path d="M-2 32.4Q10 29.4 26 22.4" stroke="#101012" stroke-width="0.85" fill="none" opacity="0.85"/><path d="M-2 34.7Q10 31.7 26 24.7" stroke="#b8b8bc" stroke-width="0.85" fill="none" opacity="0.85"/><path d="M-2 37.0Q10 34.0 26 27.0" stroke="#18181c" stroke-width="0.85" fill="none" opacity="0.85"/><path d="M-2 39.3Q10 36.3 26 29.3" stroke="#a0a0a4" stroke-width="0.85" fill="none" opacity="0.85"/><path d="M-2 41.6Q10 38.6 26 31.6" stroke="#101012" stroke-width="0.85" fill="none" opacity="0.85"/><path d="M-2 43.9Q10 40.9 26 33.9" stroke="#b8b8bc" stroke-width="0.85" fill="none" opacity="0.85"/><path d="M-2 46.2Q10 43.2 26 36.2" stroke="#18181c" stroke-width="0.85" fill="none" opacity="0.85"/></g><ellipse cx="12.5" cy="7" rx="3.5" ry="2.6" fill="#1a1a1c" opacity="0.65"/><path d="M10 4.5L17 3.5L28 7L38 13L46 19L44 20.5L36 16L26 11L18 8.5L12 9Z" fill="#161618" opacity="0.7"/><path d="M0.3 42L2.5 38.5L8 40L9.5 44L8 47.2L2.5 47.5Z" fill="#1e1a18" opacity="0.9"/><path d="M42 56L45 50.5L50 50L53 56Z" fill="#a8a098" opacity="0.5"/></g></symbol><symbol id="zebb" viewBox="0 0 56 56"><g filter="url(#soft)"><rect width="56" height="56" fill="#706458"/><rect x="0.6" y="0" width="1.6" height="40" fill="#9a8470" opacity="0.75"/><rect x="2.5" y="0" width="2.2" height="40" fill="#2e2620" opacity="0.75"/><rect x="6" y="0" width="2.2" height="40" fill="#8a7868" opacity="0.75"/><rect x="36.5" y="0" width="1.5" height="40" fill="#908272" opacity="0.75"/><rect x="40" y="0" width="1.2" height="40" fill="#3a3028" opacity="0.75"/><rect x="43" y="0" width="1.6" height="40" fill="#9a8c7c" opacity="0.75"/><rect x="46.5" y="0" width="1.3" height="40" fill="#3a3028" opacity="0.75"/><rect x="50" y="0" width="1.6" height="40" fill="#958777" opacity="0.75"/><rect x="53.5" y="0" width="1.3" height="40" fill="#3a3028" opacity="0.75"/><rect x="9" y="0" width="28" height="4.2" fill="#24201e"/><rect x="24.5" y="0" width="1.6" height="6" fill="#b8b0a8" opacity="0.6"/><path d="M0 33L17 33L33 48L56 50V56H0Z" fill="#e0dcd4"/><path d="M5 15L7 8L10 4.5L17 3.5L28 7L38 13L46 19L56 22V56H33L16.6 34.4L9.5 44L8 47.2L2.5 47.5L0.3 42L2.5 29Z" fill="#525056"/><clipPath id="zcb"><path d="M5 15L7 8L10 4.5L17 3.5L28 7L38 13L46 19L56 22V56H33L16.6 34.4L9.5 44L8 47.2L2.5 47.5L0.3 42L2.5 29Z"/></clipPath><clipPath id="zfb"><path d="M5 15L7 8L10 4.5L17 3.5L23 8L25 18L22 30L16.6 34.4L9.5 44L8 47.2L2.5 47.5L0.3 42L2.5 29Z"/></clipPath><g clip-path="url(#zcb)"><path d="M22.0 4Q26.0 26 19.0 56" stroke="#c8b070" stroke-width="0.90" fill="none" opacity="0.80"/><path d="M24.2 4Q28.2 26 21.2 56" stroke="#2a48b0" stroke-width="0.90" fill="none" opacity="0.80"/><path d="M26.4 4Q30.4 26 23.4 56" stroke="#181818" stroke-width="0.90" fill="none" opacity="0.80"/><path d="M28.6 4Q32.6 26 25.6 56" stroke="#a8b0c0" stroke-width="0.90" fill="none" opacity="0.80"/><path d="M30.8 4Q34.8 26 27.8 56" stroke="#b05040" stroke-width="0.90" fill="none" opacity="0.80"/><path d="M33.0 4Q37.0 26 30.0 56" stroke="#181818" stroke-width="0.90" fill="none" opacity="0.80"/><path d="M35.2 4Q39.2 26 32.2 56" stroke="#d0c060" stroke-width="0.90" fill="none" opacity="0.80"/><path d="M37.4 4Q41.4 26 34.4 56" stroke="#3070c0" stroke-width="0.90" fill="none" opacity="0.80"/><path d="M39.6 4Q43.6 26 36.6 56" stroke="#101426" stroke-width="0.90" fill="none" opacity="0.80"/><path d="M41.8 4Q45.8 26 38.8 56" stroke="#c8b070" stroke-width="0.90" fill="none" opacity="0.80"/><path d="M44.0 4Q48.0 26 41.0 56" stroke="#2a48b0" stroke-width="0.90" fill="none" opacity="0.80"/><path d="M40 14.0Q48 16.0 57 21.0" stroke="#2a48b0" stroke-width="0.81" fill="none" opacity="0.56"/><path d="M40 17.0Q48 19.0 57 24.0" stroke="#181818" stroke-width="0.81" fill="none" opacity="0.56"/><path d="M40 20.0Q48 22.0 57 27.0" stroke="#a8b0c0" stroke-width="0.81" fill="none" opacity="0.56"/><path d="M40 23.0Q48 25.0 57 30.0" stroke="#b05040" stroke-width="0.81" fill="none" opacity="0.56"/><path d="M40 26.0Q48 28.0 57 33.0" stroke="#181818" stroke-width="0.81" fill="none" opacity="0.56"/><path d="M40 29.0Q48 31.0 57 36.0" stroke="#d0c060" stroke-width="0.81" fill="none" opacity="0.56"/><path d="M40 32.0Q48 34.0 57 39.0" stroke="#3070c0" stroke-width="0.81" fill="none" opacity="0.56"/><path d="M40 35.0Q48 37.0 57 42.0" stroke="#101426" stroke-width="0.81" fill="none" opacity="0.56"/><path d="M40 38.0Q48 40.0 57 45.0" stroke="#c8b070" stroke-width="0.81" fill="none" opacity="0.56"/><path d="M40 41.0Q48 43.0 57 48.0" stroke="#2a48b0" stroke-width="0.81" fill="none" opacity="0.56"/><path d="M40 44.0Q48 46.0 57 51.0" stroke="#181818" stroke-width="0.81" fill="none" opacity="0.56"/><path d="M40 47.0Q48 49.0 57 54.0" stroke="#a8b0c0" stroke-width="0.81" fill="none" opacity="0.56"/><path d="M40 50.0Q48 52.0 57 57.0" stroke="#b05040" stroke-width="0.81" fill="none" opacity="0.56"/><path d="M40 53.0Q48 55.0 57 60.0" stroke="#181818" stroke-width="0.81" fill="none" opacity="0.56"/><rect x="29.2" y="23.4" width="1.0" height="1.0" fill="#2a48b0" opacity="0.45"/><rect x="15.3" y="39.2" width="1.0" height="1.0" fill="#b05040" opacity="0.45"/><rect x="31.1" y="50.7" width="1.0" height="1.0" fill="#c8b070" opacity="0.45"/><rect x="22.7" y="52.7" width="1.0" height="1.0" fill="#101426" opacity="0.45"/><rect x="42.4" y="12.8" width="1.0" height="1.0" fill="#d0c060" opacity="0.45"/><rect x="53.6" y="26.0" width="1.0" height="1.0" fill="#2a48b0" opacity="0.45"/><rect x="17.9" y="9.8" width="1.0" height="1.0" fill="#3070c0" opacity="0.45"/><rect x="49.6" y="55.5" width="1.0" height="1.0" fill="#c8b070" opacity="0.45"/><rect x="44.7" y="24.0" width="1.0" height="1.0" fill="#c8b070" opacity="0.45"/><rect x="51.9" y="14.7" width="1.0" height="1.0" fill="#181818" opacity="0.45"/><rect x="42.3" y="25.9" width="1.0" height="1.0" fill="#c8b070" opacity="0.45"/><rect x="44.6" y="51.4" width="1.0" height="1.0" fill="#181818" opacity="0.45"/><rect x="20.1" y="46.1" width="1.0" height="1.0" fill="#181818" opacity="0.45"/><rect x="41.4" y="4.3" width="1.0" height="1.0" fill="#181818" opacity="0.45"/><rect x="8.7" y="23.7" width="1.0" height="1.0" fill="#d0c060" opacity="0.45"/><rect x="13.0" y="16.3" width="1.0" height="1.0" fill="#c8b070" opacity="0.45"/><rect x="54.2" y="4.2" width="1.0" height="1.0" fill="#606060" opacity="0.45"/><rect x="15.9" y="48.3" width="1.0" height="1.0" fill="#b05040" opacity="0.45"/><rect x="6.4" y="8.3" width="1.0" height="1.0" fill="#3070c0" opacity="0.45"/><rect x="51.9" y="30.0" width="1.0" height="1.0" fill="#606060" opacity="0.45"/><rect x="30.8" y="51.9" width="1.0" height="1.0" fill="#181818" opacity="0.45"/><rect x="9.4" y="14.0" width="1.0" height="1.0" fill="#c8b070" opacity="0.45"/><rect x="41.0" y="11.6" width="1.0" height="1.0" fill="#606060" opacity="0.45"/><rect x="42.0" y="6.1" width="1.0" height="1.0" fill="#a8b0c0" opacity="0.45"/><rect x="33.8" y="35.5" width="1.0" height="1.0" fill="#2a48b0" opacity="0.45"/><rect x="43.3" y="42.3" width="1.0" height="1.0" fill="#606060" opacity="0.45"/><rect x="55.9" y="10.3" width="1.0" height="1.0" fill="#181818" opacity="0.45"/><rect x="53.5" y="16.3" width="1.0" height="1.0" fill="#606060" opacity="0.45"/><rect x="31.2" y="42.3" width="1.0" height="1.0" fill="#303030" opacity="0.45"/><rect x="32.1" y="33.4" width="1.0" height="1.0" fill="#c8b070" opacity="0.45"/><rect x="49.4" y="9.7" width="1.0" height="1.0" fill="#606060" opacity="0.45"/><rect x="24.3" y="14.9" width="1.0" height="1.0" fill="#181818" opacity="0.45"/><rect x="55.3" y="33.9" width="1.0" height="1.0" fill="#101426" opacity="0.45"/><rect x="24.9" y="35.6" width="1.0" height="1.0" fill="#101426" opacity="0.45"/><rect x="27.7" y="15.1" width="1.0" height="1.0" fill="#d0c060" opacity="0.45"/><rect x="19.5" y="46.4" width="1.0" height="1.0" fill="#a8b0c0" opacity="0.45"/><rect x="37.5" y="9.4" width="1.0" height="1.0" fill="#101426" opacity="0.45"/><rect x="7.3" y="44.6" width="1.0" height="1.0" fill="#181818" opacity="0.45"/><rect x="30.9" y="40.9" width="1.0" height="1.0" fill="#181818" opacity="0.45"/><rect x="34.3" y="7.4" width="1.0" height="1.0" fill="#303030" opacity="0.45"/><rect x="17.5" y="54.1" width="1.0" height="1.0" fill="#181818" opacity="0.45"/><rect x="31.5" y="53.7" width="1.0" height="1.0" fill="#3070c0" opacity="0.45"/><rect x="24.5" y="38.7" width="1.0" height="1.0" fill="#2a48b0" opacity="0.45"/><rect x="40.6" y="49.5" width="1.0" height="1.0" fill="#101426" opacity="0.45"/><rect x="8.5" y="54.7" width="1.0" height="1.0" fill="#2a48b0" opacity="0.45"/><rect x="19.1" y="12.5" width="1.0" height="1.0" fill="#c8b070" opacity="0.45"/><rect x="36.3" y="4.6" width="1.0" height="1.0" fill="#101426" opacity="0.45"/><rect x="28.5" y="44.9" width="1.0" height="1.0" fill="#a8b0c0" opacity="0.45"/><rect x="36.6" y="54.3" width="1.0" height="1.0" fill="#b05040" opacity="0.45"/><rect x="20.3" y="29.0" width="1.0" height="1.0" fill="#a8b0c0" opacity="0.45"/><rect x="12.9" y="8.5" width="1.0" height="1.0" fill="#3070c0" opacity="0.45"/><rect x="20.8" y="10.1" width="1.0" height="1.0" fill="#181818" opacity="0.45"/><rect x="28.6" y="40.6" width="1.0" height="1.0" fill="#181818" opacity="0.45"/><rect x="35.4" y="45.7" width="1.0" height="1.0" fill="#303030" opacity="0.45"/><rect x="41.8" y="44.1" width="1.0" height="1.0" fill="#606060" opacity="0.45"/><rect x="30.7" y="9.2" width="1.0" height="1.0" fill="#101426" opacity="0.45"/><rect x="19.8" y="10.7" width="1.0" height="1.0" fill="#303030" opacity="0.45"/><rect x="47.0" y="12.4" width="1.0" height="1.0" fill="#181818" opacity="0.45"/><rect x="49.0" y="14.6" width="1.0" height="1.0" fill="#d0c060" opacity="0.45"/><rect x="28.8" y="33.1" width="1.0" height="1.0" fill="#181818" opacity="0.45"/><rect x="10.2" y="32.5" width="1.0" height="1.0" fill="#606060" opacity="0.45"/><rect x="53.3" y="31.8" width="1.0" height="1.0" fill="#303030" opacity="0.45"/><rect x="7.4" y="55.6" width="1.0" height="1.0" fill="#181818" opacity="0.45"/><rect x="33.2" y="31.2" width="1.0" height="1.0" fill="#3070c0" opacity="0.45"/><rect x="38.1" y="45.4" width="1.0" height="1.0" fill="#303030" opacity="0.45"/><rect x="34.7" y="53.7" width="1.0" height="1.0" fill="#c8b070" opacity="0.45"/><rect x="42.2" y="41.5" width="1.0" height="1.0" fill="#c8b070" opacity="0.45"/><rect x="11.0" y="29.6" width="1.0" height="1.0" fill="#101426" opacity="0.45"/><rect x="30.5" y="37.1" width="1.0" height="1.0" fill="#101426" opacity="0.45"/><rect x="39.9" y="5.5" width="1.0" height="1.0" fill="#181818" opacity="0.45"/><rect x="49.9" y="16.0" width="1.0" height="1.0" fill="#606060" opacity="0.45"/><rect x="37.2" y="49.5" width="1.0" height="1.0" fill="#101426" opacity="0.45"/><rect x="37.1" y="8.4" width="1.0" height="1.0" fill="#101426" opacity="0.45"/><rect x="39.9" y="25.1" width="1.0" height="1.0" fill="#c8b070" opacity="0.45"/><rect x="10.0" y="5.8" width="1.0" height="1.0" fill="#2a48b0" opacity="0.45"/><rect x="10.2" y="5.6" width="1.0" height="1.0" fill="#606060" opacity="0.45"/><rect x="29.5" y="31.8" width="1.0" height="1.0" fill="#101426" opacity="0.45"/><rect x="41.2" y="7.9" width="1.0" height="1.0" fill="#c8b070" opacity="0.45"/><rect x="45.1" y="4.4" width="1.0" height="1.0" fill="#d0c060" opacity="0.45"/><rect x="35.5" y="54.8" width="1.0" height="1.0" fill="#d0c060" opacity="0.45"/><rect x="47.6" y="9.5" width="1.0" height="1.0" fill="#b05040" opacity="0.45"/><rect x="39.6" y="27.5" width="1.0" height="1.0" fill="#2a48b0" opacity="0.45"/><rect x="15.6" y="15.5" width="1.0" height="1.0" fill="#c8b070" opacity="0.45"/><rect x="8.6" y="7.9" width="1.0" height="1.0" fill="#303030" opacity="0.45"/><rect x="54.8" y="23.4" width="1.0" height="1.0" fill="#101426" opacity="0.45"/><rect x="29.4" y="31.1" width="1.0" height="1.0" fill="#b05040" opacity="0.45"/><rect x="49.7" y="8.2" width="1.0" height="1.0" fill="#101426" opacity="0.45"/><rect x="18.8" y="30.9" width="1.0" height="1.0" fill="#181818" opacity="0.45"/><rect x="6.8" y="17.2" width="1.0" height="1.0" fill="#606060" opacity="0.45"/><rect x="7.1" y="9.4" width="1.0" height="1.0" fill="#181818" opacity="0.45"/><rect x="8.9" y="17.1" width="1.0" height="1.0" fill="#b05040" opacity="0.45"/><rect x="36.3" y="15.5" width="1.0" height="1.0" fill="#101426" opacity="0.45"/><rect x="40.1" y="10.9" width="1.0" height="1.0" fill="#101426" opacity="0.45"/><rect x="46.0" y="54.7" width="1.0" height="1.0" fill="#181818" opacity="0.45"/><rect x="52.5" y="49.6" width="1.0" height="1.0" fill="#a8b0c0" opacity="0.45"/><rect x="54.4" y="8.9" width="1.0" height="1.0" fill="#b05040" opacity="0.45"/><rect x="28.0" y="25.7" width="1.0" height="1.0" fill="#b05040" opacity="0.45"/><rect x="30.6" y="22.0" width="1.0" height="1.0" fill="#181818" opacity="0.45"/><rect x="27.5" y="8.1" width="1.0" height="1.0" fill="#a8b0c0" opacity="0.45"/><rect x="29.1" y="35.7" width="1.0" height="1.0" fill="#606060" opacity="0.45"/><rect x="28.8" y="24.0" width="1.0" height="1.0" fill="#b05040" opacity="0.45"/><rect x="26.1" y="20.9" width="1.0" height="1.0" fill="#2a48b0" opacity="0.45"/><rect x="21.9" y="5.4" width="1.0" height="1.0" fill="#181818" opacity="0.45"/><rect x="41.6" y="38.3" width="1.0" height="1.0" fill="#2a48b0" opacity="0.45"/><rect x="53.2" y="8.5" width="1.0" height="1.0" fill="#d0c060" opacity="0.45"/><rect x="54.1" y="35.2" width="1.0" height="1.0" fill="#303030" opacity="0.45"/><rect x="42.7" y="15.0" width="1.0" height="1.0" fill="#3070c0" opacity="0.45"/><rect x="44.6" y="7.9" width="1.0" height="1.0" fill="#303030" opacity="0.45"/><rect x="33.6" y="28.5" width="1.0" height="1.0" fill="#b05040" opacity="0.45"/><rect x="44.2" y="45.6" width="1.0" height="1.0" fill="#3070c0" opacity="0.45"/><rect x="11.0" y="41.3" width="1.0" height="1.0" fill="#a8b0c0" opacity="0.45"/><rect x="51.9" y="14.7" width="1.0" height="1.0" fill="#181818" opacity="0.45"/><rect x="6.5" y="51.9" width="1.0" height="1.0" fill="#101426" opacity="0.45"/><rect x="10.6" y="21.1" width="1.0" height="1.0" fill="#c8b070" opacity="0.45"/><rect x="31.5" y="45.1" width="1.0" height="1.0" fill="#181818" opacity="0.45"/><rect x="38.5" y="24.6" width="1.0" height="1.0" fill="#606060" opacity="0.45"/><rect x="31.3" y="11.0" width="1.0" height="1.0" fill="#b05040" opacity="0.45"/><rect x="23.9" y="18.0" width="1.0" height="1.0" fill="#b05040" opacity="0.45"/><rect x="51.8" y="33.5" width="1.0" height="1.0" fill="#606060" opacity="0.45"/><rect x="44.9" y="13.3" width="1.0" height="1.0" fill="#2a48b0" opacity="0.45"/><rect x="6.5" y="39.6" width="1.0" height="1.0" fill="#101426" opacity="0.45"/><rect x="19.9" y="31.2" width="1.0" height="1.0" fill="#303030" opacity="0.45"/><rect x="27.4" y="54.9" width="1.0" height="1.0" fill="#c8b070" opacity="0.45"/><rect x="19.6" y="11.5" width="1.0" height="1.0" fill="#d0c060" opacity="0.45"/><rect x="29.9" y="55.7" width="1.0" height="1.0" fill="#2a48b0" opacity="0.45"/><rect x="22.6" y="42.9" width="1.0" height="1.0" fill="#b05040" opacity="0.45"/><rect x="43.2" y="6.6" width="1.0" height="1.0" fill="#a8b0c0" opacity="0.45"/><rect x="52.4" y="5.4" width="1.0" height="1.0" fill="#2a48b0" opacity="0.45"/><rect x="32.9" y="53.4" width="1.0" height="1.0" fill="#c8b070" opacity="0.45"/><rect x="28.7" y="21.7" width="1.0" height="1.0" fill="#3070c0" opacity="0.45"/><rect x="12.7" y="26.0" width="1.0" height="1.0" fill="#3070c0" opacity="0.45"/><rect x="16.1" y="39.7" width="1.0" height="1.0" fill="#181818" opacity="0.45"/><rect x="6.5" y="32.9" width="1.0" height="1.0" fill="#101426" opacity="0.45"/><rect x="52.8" y="41.2" width="1.0" height="1.0" fill="#d0c060" opacity="0.45"/><rect x="24.6" y="23.4" width="1.0" height="1.0" fill="#181818" opacity="0.45"/><rect x="50.3" y="26.7" width="1.0" height="1.0" fill="#181818" opacity="0.45"/><rect x="33.8" y="51.7" width="1.0" height="1.0" fill="#606060" opacity="0.45"/><rect x="10.2" y="22.4" width="1.0" height="1.0" fill="#181818" opacity="0.45"/><rect x="44.4" y="54.4" width="1.0" height="1.0" fill="#2a48b0" opacity="0.45"/><rect x="44.0" y="4.6" width="1.0" height="1.0" fill="#303030" opacity="0.45"/></g><g clip-path="url(#zfb)"><rect width="56" height="56" fill="#525056"/><ellipse cx="14" cy="14" rx="6" ry="5" fill="#9a9a98" opacity="0.5"/><path d="M-2 14.0Q10 11.0 26 4.0" stroke="#101426" stroke-width="0.85" fill="none" opacity="0.80"/><path d="M-2 16.3Q10 13.3 26 6.3" stroke="#c8b070" stroke-width="0.85" fill="none" opacity="0.80"/><path d="M-2 18.6Q10 15.6 26 8.6" stroke="#2a48b0" stroke-width="0.85" fill="none" opacity="0.80"/><path d="M-2 20.9Q10 17.9 26 10.9" stroke="#181818" stroke-width="0.85" fill="none" opacity="0.80"/><path d="M-2 23.2Q10 20.2 26 13.2" stroke="#a8b0c0" stroke-width="0.85" fill="none" opacity="0.80"/><path d="M-2 25.5Q10 22.5 26 15.5" stroke="#b05040" stroke-width="0.85" fill="none" opacity="0.80"/><path d="M-2 27.8Q10 24.8 26 17.8" stroke="#181818" stroke-width="0.85" fill="none" opacity="0.80"/><path d="M-2 30.1Q10 27.1 26 20.1" stroke="#d0c060" stroke-width="0.85" fill="none" opacity="0.80"/><path d="M-2 32.4Q10 29.4 26 22.4" stroke="#3070c0" stroke-width="0.85" fill="none" opacity="0.80"/><path d="M-2 34.7Q10 31.7 26 24.7" stroke="#101426" stroke-width="0.85" fill="none" opacity="0.80"/><path d="M-2 37.0Q10 34.0 26 27.0" stroke="#c8b070" stroke-width="0.85" fill="none" opacity="0.80"/><path d="M-2 39.3Q10 36.3 26 29.3" stroke="#2a48b0" stroke-width="0.85" fill="none" opacity="0.80"/><path d="M-2 41.6Q10 38.6 26 31.6" stroke="#181818" stroke-width="0.85" fill="none" opacity="0.80"/><path d="M-2 43.9Q10 40.9 26 33.9" stroke="#a8b0c0" stroke-width="0.85" fill="none" opacity="0.80"/><path d="M-2 46.2Q10 43.2 26 36.2" stroke="#b05040" stroke-width="0.85" fill="none" opacity="0.80"/></g><ellipse cx="12.5" cy="7" rx="3.5" ry="2.6" fill="#1a1a1c" opacity="0.65"/><path d="M10 4.5L17 3.5L28 7L38 13L46 19L44 20.5L36 16L26 11L18 8.5L12 9Z" fill="#161618" opacity="0.7"/><path d="M0.3 42L2.5 38.5L8 40L9.5 44L8 47.2L2.5 47.5Z" fill="#1e1a18" opacity="0.9"/><path d="M42 56L45 50.5L50 50L53 56Z" fill="#a8a098" opacity="0.5"/></g></symbol><symbol id="zebc" viewBox="0 0 56 56"><g filter="url(#soft)"><rect width="56" height="56" fill="#786c60"/><rect x="0.6" y="0" width="1.6" height="40" fill="#9a8470" opacity="0.75"/><rect x="2.5" y="0" width="2.2" height="40" fill="#2e2620" opacity="0.75"/><rect x="6" y="0" width="2.2" height="40" fill="#8a7868" opacity="0.75"/><rect x="36.5" y="0" width="1.5" height="40" fill="#908272" opacity="0.75"/><rect x="40" y="0" width="1.2" height="40" fill="#3a3028" opacity="0.75"/><rect x="43" y="0" width="1.6" height="40" fill="#9a8c7c" opacity="0.75"/><rect x="46.5" y="0" width="1.3" height="40" fill="#3a3028" opacity="0.75"/><rect x="50" y="0" width="1.6" height="40" fill="#958777" opacity="0.75"/><rect x="53.5" y="0" width="1.3" height="40" fill="#3a3028" opacity="0.75"/><rect x="9" y="0" width="28" height="4.2" fill="#24201e"/><rect x="24.5" y="0" width="1.6" height="6" fill="#b8b0a8" opacity="0.6"/><path d="M0 33L17 33L33 48L56 50V56H0Z" fill="#e0dcd4"/><path d="M5 15L7 8L10 4.5L17 3.5L28 7L38 13L46 19L56 22V56H33L16.6 34.4L9.5 44L8 47.2L2.5 47.5L0.3 42L2.5 29Z" fill="#4e4c58"/><clipPath id="zcc"><path d="M5 15L7 8L10 4.5L17 3.5L28 7L38 13L46 19L56 22V56H33L16.6 34.4L9.5 44L8 47.2L2.5 47.5L0.3 42L2.5 29Z"/></clipPath><clipPath id="zfc"><path d="M5 15L7 8L10 4.5L17 3.5L23 8L25 18L22 30L16.6 34.4L9.5 44L8 47.2L2.5 47.5L0.3 42L2.5 29Z"/></clipPath><g clip-path="url(#zcc)"><path d="M22.0 4Q26.0 26 19.0 56" stroke="#101010" stroke-width="0.90" fill="none" opacity="0.75"/><path d="M24.2 4Q28.2 26 21.2 56" stroke="#e8c000" stroke-width="0.90" fill="none" opacity="0.75"/><path d="M26.4 4Q30.4 26 23.4 56" stroke="#20c040" stroke-width="0.90" fill="none" opacity="0.75"/><path d="M28.6 4Q32.6 26 25.6 56" stroke="#101010" stroke-width="0.90" fill="none" opacity="0.75"/><path d="M30.8 4Q34.8 26 27.8 56" stroke="#00a0e8" stroke-width="0.90" fill="none" opacity="0.75"/><path d="M33.0 4Q37.0 26 30.0 56" stroke="#3030e8" stroke-width="0.90" fill="none" opacity="0.75"/><path d="M35.2 4Q39.2 26 32.2 56" stroke="#101010" stroke-width="0.90" fill="none" opacity="0.75"/><path d="M37.4 4Q41.4 26 34.4 56" stroke="#d030c0" stroke-width="0.90" fill="none" opacity="0.75"/><path d="M39.6 4Q43.6 26 36.6 56" stroke="#101010" stroke-width="0.90" fill="none" opacity="0.75"/><path d="M41.8 4Q45.8 26 38.8 56" stroke="#e83030" stroke-width="0.90" fill="none" opacity="0.75"/><path d="M44.0 4Q48.0 26 41.0 56" stroke="#101010" stroke-width="0.90" fill="none" opacity="0.75"/><path d="M40 14.0Q48 16.0 57 21.0" stroke="#e8c000" stroke-width="0.81" fill="none" opacity="0.52"/><path d="M40 17.0Q48 19.0 57 24.0" stroke="#20c040" stroke-width="0.81" fill="none" opacity="0.52"/><path d="M40 20.0Q48 22.0 57 27.0" stroke="#101010" stroke-width="0.81" fill="none" opacity="0.52"/><path d="M40 23.0Q48 25.0 57 30.0" stroke="#00a0e8" stroke-width="0.81" fill="none" opacity="0.52"/><path d="M40 26.0Q48 28.0 57 33.0" stroke="#3030e8" stroke-width="0.81" fill="none" opacity="0.52"/><path d="M40 29.0Q48 31.0 57 36.0" stroke="#101010" stroke-width="0.81" fill="none" opacity="0.52"/><path d="M40 32.0Q48 34.0 57 39.0" stroke="#d030c0" stroke-width="0.81" fill="none" opacity="0.52"/><path d="M40 35.0Q48 37.0 57 42.0" stroke="#101010" stroke-width="0.81" fill="none" opacity="0.52"/><path d="M40 38.0Q48 40.0 57 45.0" stroke="#e83030" stroke-width="0.81" fill="none" opacity="0.52"/><path d="M40 41.0Q48 43.0 57 48.0" stroke="#101010" stroke-width="0.81" fill="none" opacity="0.52"/><path d="M40 44.0Q48 46.0 57 51.0" stroke="#e8c000" stroke-width="0.81" fill="none" opacity="0.52"/><path d="M40 47.0Q48 49.0 57 54.0" stroke="#20c040" stroke-width="0.81" fill="none" opacity="0.52"/><path d="M40 50.0Q48 52.0 57 57.0" stroke="#101010" stroke-width="0.81" fill="none" opacity="0.52"/><path d="M40 53.0Q48 55.0 57 60.0" stroke="#00a0e8" stroke-width="0.81" fill="none" opacity="0.52"/><rect x="19.0" y="39.6" width="1.0" height="1.0" fill="#606060" opacity="0.45"/><rect x="46.1" y="50.3" width="1.0" height="1.0" fill="#606060" opacity="0.45"/><rect x="17.5" y="11.7" width="1.0" height="1.0" fill="#20c040" opacity="0.45"/><rect x="38.0" y="13.7" width="1.0" height="1.0" fill="#101010" opacity="0.45"/><rect x="32.6" y="15.1" width="1.0" height="1.0" fill="#101010" opacity="0.45"/><rect x="7.5" y="10.6" width="1.0" height="1.0" fill="#606060" opacity="0.45"/><rect x="36.4" y="4.8" width="1.0" height="1.0" fill="#101010" opacity="0.45"/><rect x="47.7" y="8.4" width="1.0" height="1.0" fill="#101010" opacity="0.45"/><rect x="47.3" y="42.7" width="1.0" height="1.0" fill="#e8c000" opacity="0.45"/><rect x="45.7" y="17.3" width="1.0" height="1.0" fill="#20c040" opacity="0.45"/><rect x="30.3" y="43.3" width="1.0" height="1.0" fill="#101010" opacity="0.45"/><rect x="55.1" y="38.9" width="1.0" height="1.0" fill="#3030e8" opacity="0.45"/><rect x="37.9" y="38.1" width="1.0" height="1.0" fill="#00a0e8" opacity="0.45"/><rect x="47.0" y="45.5" width="1.0" height="1.0" fill="#101010" opacity="0.45"/><rect x="40.5" y="32.8" width="1.0" height="1.0" fill="#303030" opacity="0.45"/><rect x="55.4" y="26.9" width="1.0" height="1.0" fill="#303030" opacity="0.45"/><rect x="28.2" y="13.2" width="1.0" height="1.0" fill="#20c040" opacity="0.45"/><rect x="15.0" y="22.5" width="1.0" height="1.0" fill="#00a0e8" opacity="0.45"/><rect x="29.0" y="35.5" width="1.0" height="1.0" fill="#3030e8" opacity="0.45"/><rect x="50.5" y="34.0" width="1.0" height="1.0" fill="#d030c0" opacity="0.45"/><rect x="17.8" y="16.3" width="1.0" height="1.0" fill="#20c040" opacity="0.45"/><rect x="41.1" y="10.8" width="1.0" height="1.0" fill="#3030e8" opacity="0.45"/><rect x="38.6" y="53.6" width="1.0" height="1.0" fill="#3030e8" opacity="0.45"/><rect x="6.1" y="26.1" width="1.0" height="1.0" fill="#e83030" opacity="0.45"/><rect x="17.2" y="29.9" width="1.0" height="1.0" fill="#303030" opacity="0.45"/><rect x="47.9" y="37.2" width="1.0" height="1.0" fill="#e8c000" opacity="0.45"/><rect x="42.7" y="42.3" width="1.0" height="1.0" fill="#101010" opacity="0.45"/><rect x="50.3" y="45.8" width="1.0" height="1.0" fill="#20c040" opacity="0.45"/><rect x="41.3" y="36.8" width="1.0" height="1.0" fill="#d030c0" opacity="0.45"/><rect x="41.8" y="11.1" width="1.0" height="1.0" fill="#303030" opacity="0.45"/><rect x="36.2" y="41.6" width="1.0" height="1.0" fill="#20c040" opacity="0.45"/><rect x="49.1" y="6.2" width="1.0" height="1.0" fill="#303030" opacity="0.45"/><rect x="35.6" y="22.7" width="1.0" height="1.0" fill="#303030" opacity="0.45"/><rect x="34.5" y="13.5" width="1.0" height="1.0" fill="#20c040" opacity="0.45"/><rect x="14.2" y="39.6" width="1.0" height="1.0" fill="#101010" opacity="0.45"/><rect x="51.0" y="12.7" width="1.0" height="1.0" fill="#3030e8" opacity="0.45"/><rect x="38.2" y="32.9" width="1.0" height="1.0" fill="#d030c0" opacity="0.45"/><rect x="40.8" y="54.5" width="1.0" height="1.0" fill="#00a0e8" opacity="0.45"/><rect x="38.3" y="31.4" width="1.0" height="1.0" fill="#e8c000" opacity="0.45"/><rect x="55.9" y="10.3" width="1.0" height="1.0" fill="#101010" opacity="0.45"/><rect x="51.3" y="33.4" width="1.0" height="1.0" fill="#303030" opacity="0.45"/><rect x="9.9" y="28.4" width="1.0" height="1.0" fill="#00a0e8" opacity="0.45"/><rect x="48.6" y="5.9" width="1.0" height="1.0" fill="#00a0e8" opacity="0.45"/><rect x="22.7" y="29.8" width="1.0" height="1.0" fill="#d030c0" opacity="0.45"/><rect x="31.8" y="28.7" width="1.0" height="1.0" fill="#606060" opacity="0.45"/><rect x="16.4" y="45.5" width="1.0" height="1.0" fill="#3030e8" opacity="0.45"/><rect x="31.1" y="51.3" width="1.0" height="1.0" fill="#303030" opacity="0.45"/><rect x="13.3" y="26.1" width="1.0" height="1.0" fill="#20c040" opacity="0.45"/><rect x="18.9" y="34.6" width="1.0" height="1.0" fill="#00a0e8" opacity="0.45"/><rect x="44.6" y="34.8" width="1.0" height="1.0" fill="#3030e8" opacity="0.45"/><rect x="16.2" y="22.2" width="1.0" height="1.0" fill="#e83030" opacity="0.45"/><rect x="21.8" y="28.0" width="1.0" height="1.0" fill="#101010" opacity="0.45"/><rect x="43.9" y="35.2" width="1.0" height="1.0" fill="#e83030" opacity="0.45"/><rect x="38.7" y="19.9" width="1.0" height="1.0" fill="#101010" opacity="0.45"/><rect x="30.0" y="32.8" width="1.0" height="1.0" fill="#00a0e8" opacity="0.45"/><rect x="9.1" y="31.5" width="1.0" height="1.0" fill="#e8c000" opacity="0.45"/><rect x="13.4" y="6.7" width="1.0" height="1.0" fill="#00a0e8" opacity="0.45"/><rect x="47.2" y="15.4" width="1.0" height="1.0" fill="#101010" opacity="0.45"/><rect x="36.2" y="19.1" width="1.0" height="1.0" fill="#00a0e8" opacity="0.45"/><rect x="12.4" y="22.8" width="1.0" height="1.0" fill="#101010" opacity="0.45"/><rect x="35.3" y="34.3" width="1.0" height="1.0" fill="#3030e8" opacity="0.45"/><rect x="8.2" y="31.8" width="1.0" height="1.0" fill="#e8c000" opacity="0.45"/><rect x="54.4" y="6.6" width="1.0" height="1.0" fill="#e8c000" opacity="0.45"/><rect x="50.6" y="32.4" width="1.0" height="1.0" fill="#e8c000" opacity="0.45"/><rect x="51.1" y="50.5" width="1.0" height="1.0" fill="#606060" opacity="0.45"/><rect x="13.5" y="28.9" width="1.0" height="1.0" fill="#00a0e8" opacity="0.45"/><rect x="9.5" y="17.7" width="1.0" height="1.0" fill="#20c040" opacity="0.45"/><rect x="8.3" y="16.4" width="1.0" height="1.0" fill="#20c040" opacity="0.45"/><rect x="32.0" y="51.9" width="1.0" height="1.0" fill="#101010" opacity="0.45"/><rect x="15.8" y="24.4" width="1.0" height="1.0" fill="#e83030" opacity="0.45"/><rect x="48.0" y="50.7" width="1.0" height="1.0" fill="#101010" opacity="0.45"/><rect x="36.7" y="53.0" width="1.0" height="1.0" fill="#00a0e8" opacity="0.45"/><rect x="32.7" y="19.6" width="1.0" height="1.0" fill="#d030c0" opacity="0.45"/><rect x="20.9" y="8.5" width="1.0" height="1.0" fill="#e83030" opacity="0.45"/><rect x="52.6" y="12.7" width="1.0" height="1.0" fill="#e83030" opacity="0.45"/><rect x="11.4" y="41.2" width="1.0" height="1.0" fill="#101010" opacity="0.45"/><rect x="56.0" y="46.1" width="1.0" height="1.0" fill="#3030e8" opacity="0.45"/><rect x="14.0" y="54.9" width="1.0" height="1.0" fill="#606060" opacity="0.45"/><rect x="41.8" y="19.1" width="1.0" height="1.0" fill="#e83030" opacity="0.45"/><rect x="11.5" y="20.0" width="1.0" height="1.0" fill="#3030e8" opacity="0.45"/><rect x="29.6" y="17.9" width="1.0" height="1.0" fill="#e8c000" opacity="0.45"/><rect x="28.5" y="4.2" width="1.0" height="1.0" fill="#e83030" opacity="0.45"/><rect x="32.6" y="18.4" width="1.0" height="1.0" fill="#20c040" opacity="0.45"/><rect x="52.9" y="16.9" width="1.0" height="1.0" fill="#00a0e8" opacity="0.45"/><rect x="26.8" y="55.6" width="1.0" height="1.0" fill="#101010" opacity="0.45"/><rect x="26.5" y="12.1" width="1.0" height="1.0" fill="#101010" opacity="0.45"/><rect x="51.1" y="31.9" width="1.0" height="1.0" fill="#20c040" opacity="0.45"/><rect x="44.3" y="41.1" width="1.0" height="1.0" fill="#20c040" opacity="0.45"/><rect x="7.5" y="51.1" width="1.0" height="1.0" fill="#101010" opacity="0.45"/><rect x="47.1" y="13.3" width="1.0" height="1.0" fill="#101010" opacity="0.45"/><rect x="6.3" y="10.9" width="1.0" height="1.0" fill="#101010" opacity="0.45"/><rect x="50.3" y="29.8" width="1.0" height="1.0" fill="#d030c0" opacity="0.45"/><rect x="42.2" y="6.9" width="1.0" height="1.0" fill="#303030" opacity="0.45"/><rect x="43.3" y="37.8" width="1.0" height="1.0" fill="#3030e8" opacity="0.45"/><rect x="7.4" y="31.6" width="1.0" height="1.0" fill="#606060" opacity="0.45"/><rect x="13.2" y="47.7" width="1.0" height="1.0" fill="#e8c000" opacity="0.45"/><rect x="38.5" y="42.1" width="1.0" height="1.0" fill="#3030e8" opacity="0.45"/><rect x="52.3" y="17.4" width="1.0" height="1.0" fill="#101010" opacity="0.45"/><rect x="7.1" y="8.9" width="1.0" height="1.0" fill="#00a0e8" opacity="0.45"/><rect x="32.5" y="4.5" width="1.0" height="1.0" fill="#101010" opacity="0.45"/><rect x="50.6" y="51.2" width="1.0" height="1.0" fill="#606060" opacity="0.45"/><rect x="17.0" y="6.6" width="1.0" height="1.0" fill="#303030" opacity="0.45"/><rect x="55.6" y="16.2" width="1.0" height="1.0" fill="#d030c0" opacity="0.45"/><rect x="43.0" y="9.2" width="1.0" height="1.0" fill="#e8c000" opacity="0.45"/><rect x="52.6" y="46.5" width="1.0" height="1.0" fill="#e8c000" opacity="0.45"/><rect x="40.1" y="41.5" width="1.0" height="1.0" fill="#606060" opacity="0.45"/><rect x="20.2" y="8.8" width="1.0" height="1.0" fill="#303030" opacity="0.45"/><rect x="12.7" y="41.8" width="1.0" height="1.0" fill="#101010" opacity="0.45"/><rect x="11.2" y="32.4" width="1.0" height="1.0" fill="#e8c000" opacity="0.45"/><rect x="36.5" y="30.6" width="1.0" height="1.0" fill="#101010" opacity="0.45"/><rect x="49.8" y="23.8" width="1.0" height="1.0" fill="#101010" opacity="0.45"/><rect x="31.0" y="33.7" width="1.0" height="1.0" fill="#3030e8" opacity="0.45"/><rect x="9.4" y="48.7" width="1.0" height="1.0" fill="#d030c0" opacity="0.45"/><rect x="53.6" y="21.6" width="1.0" height="1.0" fill="#606060" opacity="0.45"/><rect x="12.2" y="14.7" width="1.0" height="1.0" fill="#00a0e8" opacity="0.45"/><rect x="24.8" y="8.0" width="1.0" height="1.0" fill="#101010" opacity="0.45"/><rect x="52.6" y="19.6" width="1.0" height="1.0" fill="#e83030" opacity="0.45"/><rect x="55.3" y="27.3" width="1.0" height="1.0" fill="#3030e8" opacity="0.45"/><rect x="30.1" y="50.5" width="1.0" height="1.0" fill="#e83030" opacity="0.45"/><rect x="10.0" y="15.2" width="1.0" height="1.0" fill="#e8c000" opacity="0.45"/><rect x="32.6" y="55.5" width="1.0" height="1.0" fill="#d030c0" opacity="0.45"/><rect x="16.4" y="52.5" width="1.0" height="1.0" fill="#101010" opacity="0.45"/><rect x="6.6" y="36.7" width="1.0" height="1.0" fill="#101010" opacity="0.45"/><rect x="43.5" y="38.1" width="1.0" height="1.0" fill="#101010" opacity="0.45"/><rect x="33.7" y="36.7" width="1.0" height="1.0" fill="#00a0e8" opacity="0.45"/><rect x="14.0" y="4.8" width="1.0" height="1.0" fill="#303030" opacity="0.45"/><rect x="15.3" y="6.9" width="1.0" height="1.0" fill="#3030e8" opacity="0.45"/><rect x="34.3" y="49.9" width="1.0" height="1.0" fill="#606060" opacity="0.45"/><rect x="44.5" y="25.3" width="1.0" height="1.0" fill="#101010" opacity="0.45"/><rect x="45.9" y="48.4" width="1.0" height="1.0" fill="#e8c000" opacity="0.45"/><rect x="11.6" y="22.1" width="1.0" height="1.0" fill="#e83030" opacity="0.45"/><rect x="31.9" y="31.1" width="1.0" height="1.0" fill="#303030" opacity="0.45"/><rect x="14.7" y="40.7" width="1.0" height="1.0" fill="#3030e8" opacity="0.45"/><rect x="21.2" y="19.5" width="1.0" height="1.0" fill="#101010" opacity="0.45"/><rect x="20.1" y="34.1" width="1.0" height="1.0" fill="#d030c0" opacity="0.45"/><rect x="26.9" y="18.7" width="1.0" height="1.0" fill="#303030" opacity="0.45"/><rect x="41.8" y="9.0" width="1.0" height="1.0" fill="#606060" opacity="0.45"/><rect x="10.2" y="6.4" width="1.0" height="1.0" fill="#101010" opacity="0.45"/><rect x="54.3" y="17.2" width="1.0" height="1.0" fill="#20c040" opacity="0.45"/><rect x="37.2" y="9.2" width="1.0" height="1.0" fill="#101010" opacity="0.45"/></g><g clip-path="url(#zfc)"><rect width="56" height="56" fill="#4e4c58"/><ellipse cx="14" cy="14" rx="6" ry="5" fill="#9a9a98" opacity="0.5"/><path d="M-2 14.0Q10 11.0 26 4.0" stroke="#e83030" stroke-width="0.85" fill="none" opacity="0.75"/><path d="M-2 16.3Q10 13.3 26 6.3" stroke="#101010" stroke-width="0.85" fill="none" opacity="0.75"/><path d="M-2 18.6Q10 15.6 26 8.6" stroke="#e8c000" stroke-width="0.85" fill="none" opacity="0.75"/><path d="M-2 20.9Q10 17.9 26 10.9" stroke="#20c040" stroke-width="0.85" fill="none" opacity="0.75"/><path d="M-2 23.2Q10 20.2 26 13.2" stroke="#101010" stroke-width="0.85" fill="none" opacity="0.75"/><path d="M-2 25.5Q10 22.5 26 15.5" stroke="#00a0e8" stroke-width="0.85" fill="none" opacity="0.75"/><path d="M-2 27.8Q10 24.8 26 17.8" stroke="#3030e8" stroke-width="0.85" fill="none" opacity="0.75"/><path d="M-2 30.1Q10 27.1 26 20.1" stroke="#101010" stroke-width="0.85" fill="none" opacity="0.75"/><path d="M-2 32.4Q10 29.4 26 22.4" stroke="#d030c0" stroke-width="0.85" fill="none" opacity="0.75"/><path d="M-2 34.7Q10 31.7 26 24.7" stroke="#101010" stroke-width="0.85" fill="none" opacity="0.75"/><path d="M-2 37.0Q10 34.0 26 27.0" stroke="#e83030" stroke-width="0.85" fill="none" opacity="0.75"/><path d="M-2 39.3Q10 36.3 26 29.3" stroke="#101010" stroke-width="0.85" fill="none" opacity="0.75"/><path d="M-2 41.6Q10 38.6 26 31.6" stroke="#e8c000" stroke-width="0.85" fill="none" opacity="0.75"/><path d="M-2 43.9Q10 40.9 26 33.9" stroke="#20c040" stroke-width="0.85" fill="none" opacity="0.75"/><path d="M-2 46.2Q10 43.2 26 36.2" stroke="#101010" stroke-width="0.85" fill="none" opacity="0.75"/></g><ellipse cx="12.5" cy="7" rx="3.5" ry="2.6" fill="#1a1a1c" opacity="0.65"/><path d="M10 4.5L17 3.5L28 7L38 13L46 19L44 20.5L36 16L26 11L18 8.5L12 9Z" fill="#161618" opacity="0.7"/><path d="M0.3 42L2.5 38.5L8 40L9.5 44L8 47.2L2.5 47.5Z" fill="#1e1a18" opacity="0.9"/><path d="M42 56L45 50.5L50 50L53 56Z" fill="#a8a098" opacity="0.5"/></g></symbol></defs></svg>
<svg class="abs" width="375" height="250" viewBox="0 0 375 250"><rect x="73.4" y="19.9" width="266.1" height="194.5" fill="none" stroke="#383838" stroke-width="1"/><path d="M73.4 214.4v-2.6M73.4 19.9v2.6M109.37 214.4v-2.6M109.37 19.9v2.6M145.34 214.4v-2.6M145.34 19.9v2.6M181.31 214.4v-2.6M181.31 19.9v2.6M217.28 214.4v-2.6M217.28 19.9v2.6M253.25 214.4v-2.6M253.25 19.9v2.6M289.22 214.4v-2.6M289.22 19.9v2.6M325.19 214.4v-2.6M325.19 19.9v2.6M73.4 214.4h2.6M339.5 214.4h-2.6M73.4 167.98h2.6M339.5 167.98h-2.6M73.4 121.55h2.6M339.5 121.55h-2.6M73.4 75.12h2.6M339.5 75.12h-2.6M73.4 28.7h2.6M339.5 28.7h-2.6" stroke="#383838" stroke-width="1" fill="none"/><g fill="#ff0000"><rect x="78.89" y="23.2" width="3.4" height="3.4"/><rect x="86.09" y="29.1" width="3.4" height="3.4"/><rect x="93.28" y="32.8" width="3.4" height="3.4"/><rect x="100.48" y="105.8" width="3.4" height="3.4"/><rect x="107.67" y="109.3" width="3.4" height="3.4"/><rect x="114.86" y="109.3" width="3.4" height="3.4"/><rect x="122.06" y="109.8" width="3.4" height="3.4"/><rect x="129.25" y="112" width="3.4" height="3.4"/><rect x="136.45" y="114.1" width="3.4" height="3.4"/><rect x="143.64" y="115.7" width="3.4" height="3.4"/><rect x="150.83" y="116" width="3.4" height="3.4"/><rect x="158.03" y="118.8" width="3.4" height="3.4"/><rect x="165.22" y="120.1" width="3.4" height="3.4"/><rect x="172.42" y="122.7" width="3.4" height="3.4"/><rect x="179.61" y="124.4" width="3.4" height="3.4"/><rect x="186.8" y="124.6" width="3.4" height="3.4"/><rect x="194" y="127" width="3.4" height="3.4"/><rect x="201.19" y="127.3" width="3.4" height="3.4"/><rect x="208.39" y="136.9" width="3.4" height="3.4"/><rect x="215.58" y="144.1" width="3.4" height="3.4"/><rect x="222.77" y="144.1" width="3.4" height="3.4"/><rect x="229.97" y="144.9" width="3.4" height="3.4"/><rect x="237.16" y="149.2" width="3.4" height="3.4"/><rect x="244.36" y="157.2" width="3.4" height="3.4"/><rect x="251.55" y="158.2" width="3.4" height="3.4"/><rect x="258.74" y="158.5" width="3.4" height="3.4"/><rect x="265.94" y="163.3" width="3.4" height="3.4"/><rect x="273.13" y="165.7" width="3.4" height="3.4"/><rect x="280.33" y="166" width="3.4" height="3.4"/><rect x="287.52" y="170" width="3.4" height="3.4"/><rect x="294.71" y="171.6" width="3.4" height="3.4"/><rect x="301.91" y="172.6" width="3.4" height="3.4"/><rect x="309.1" y="174.9" width="3.4" height="3.4"/><rect x="316.3" y="178.2" width="3.4" height="3.4"/><rect x="323.49" y="184.9" width="3.4" height="3.4"/></g><g fill="#0000ff"><path d="M80.59 36.5L82.99 40.9L78.19 40.9Z"/><path d="M87.79 56.8L90.19 61.2L85.39 61.2Z"/><path d="M94.98 45.8L97.38 50.2L92.58 50.2Z"/><path d="M102.18 105.6L104.58 110L99.78 110Z"/><path d="M109.37 106.1L111.77 110.5L106.97 110.5Z"/><path d="M116.56 105.8L118.96 110.2L114.16 110.2Z"/><path d="M123.76 109.8L126.16 114.2L121.36 114.2Z"/><path d="M130.95 133.3L133.35 137.7L128.55 137.7Z"/><path d="M138.15 121.3L140.55 125.7L135.75 125.7Z"/><path d="M145.34 115.2L147.74 119.6L142.94 119.6Z"/><path d="M152.53 137.5L154.93 141.9L150.13 141.9Z"/><path d="M159.73 139.9L162.13 144.3L157.33 144.3Z"/><path d="M166.92 142.2L169.32 146.6L164.52 146.6Z"/><path d="M174.12 131.3L176.52 135.7L171.72 135.7Z"/><path d="M181.31 145.7L183.71 150.1L178.91 150.1Z"/><path d="M188.5 125.2L190.9 129.6L186.1 129.6Z"/><path d="M195.7 149.4L198.1 153.8L193.3 153.8Z"/><path d="M202.89 147.1L205.29 151.5L200.49 151.5Z"/><path d="M210.09 156.1L212.49 160.5L207.69 160.5Z"/><path d="M217.28 142L219.68 146.4L214.88 146.4Z"/><path d="M224.47 143.8L226.87 148.2L222.07 148.2Z"/><path d="M231.67 145.4L234.07 149.8L229.27 149.8Z"/><path d="M238.86 153.4L241.26 157.8L236.46 157.8Z"/><path d="M246.06 180.9L248.46 185.3L243.66 185.3Z"/><path d="M253.25 180.7L255.65 185.1L250.85 185.1Z"/><path d="M260.44 160.1L262.84 164.5L258.04 164.5Z"/><path d="M267.64 175.3L270.04 179.7L265.24 179.7Z"/><path d="M274.83 178L277.23 182.4L272.43 182.4Z"/><path d="M282.03 178.5L284.43 182.9L279.63 182.9Z"/><path d="M289.22 180.9L291.62 185.3L286.82 185.3Z"/><path d="M296.41 188.4L298.81 192.8L294.01 192.8Z"/><path d="M303.61 190.7L306.01 195.1L301.21 195.1Z"/><path d="M310.8 186.7L313.2 191.1L308.4 191.1Z"/><path d="M318 188.8L320.4 193.2L315.6 193.2Z"/><path d="M325.19 197.8L327.59 202.2L322.79 202.2Z"/></g><g fill="#00e000"><circle cx="80.59" cy="55" r="1.85"/><circle cx="87.79" cy="69.9" r="1.85"/><circle cx="94.98" cy="64.1" r="1.85"/><circle cx="102.18" cy="118.7" r="1.85"/><circle cx="109.37" cy="120.3" r="1.85"/><circle cx="116.56" cy="120.3" r="1.85"/><circle cx="123.76" cy="127.8" r="1.85"/><circle cx="130.95" cy="143.3" r="1.85"/><circle cx="138.15" cy="137.7" r="1.85"/><circle cx="145.34" cy="132.9" r="1.85"/><circle cx="152.53" cy="147" r="1.85"/><circle cx="159.73" cy="149.8" r="1.85"/><circle cx="166.92" cy="151.7" r="1.85"/><circle cx="174.12" cy="145.8" r="1.85"/><circle cx="181.31" cy="156.2" r="1.85"/><circle cx="188.5" cy="142.1" r="1.85"/><circle cx="195.7" cy="158.3" r="1.85"/><circle cx="202.89" cy="157.4" r="1.85"/><circle cx="210.09" cy="167.7" r="1.85"/><circle cx="217.28" cy="155.1" r="1.85"/><circle cx="224.47" cy="158.6" r="1.85"/><circle cx="231.67" cy="159.9" r="1.85"/><circle cx="238.86" cy="166.9" r="1.85"/><circle cx="246.06" cy="188.7" r="1.85"/><circle cx="253.25" cy="188.6" r="1.85"/><circle cx="260.44" cy="173.8" r="1.85"/><circle cx="267.64" cy="184.7" r="1.85"/><circle cx="274.83" cy="187.4" r="1.85"/><circle cx="282.03" cy="188.2" r="1.85"/><circle cx="289.22" cy="190.6" r="1.85"/><circle cx="296.41" cy="197" r="1.85"/><circle cx="303.61" cy="199" r="1.85"/><circle cx="310.8" cy="195.6" r="1.85"/><circle cx="318" cy="197.1" r="1.85"/><circle cx="325.19" cy="206.3" r="1.85"/></g><g fill="#ffff00"><path d="M80.59 56.05L82.89 58.7L80.59 61.35L78.29 58.7Z"/><path d="M87.79 72.35L90.09 75L87.79 77.65L85.49 75Z"/><path d="M94.98 65.65L97.28 68.3L94.98 70.95L92.68 68.3Z"/><path d="M102.18 122.25L104.48 124.9L102.18 127.55L99.88 124.9Z"/><path d="M109.37 125.15L111.67 127.8L109.37 130.45L107.07 127.8Z"/><path d="M116.56 125.15L118.86 127.8L116.56 130.45L114.26 127.8Z"/><path d="M123.76 130.45L126.06 133.1L123.76 135.75L121.46 133.1Z"/><path d="M130.95 144.35L133.25 147L130.95 149.65L128.65 147Z"/><path d="M138.15 141.15L140.45 143.8L138.15 146.45L135.85 143.8Z"/><path d="M145.34 135.25L147.64 137.9L145.34 140.55L143.04 137.9Z"/><path d="M152.53 147.85L154.83 150.5L152.53 153.15L150.23 150.5Z"/><path d="M159.73 150.65L162.03 153.3L159.73 155.95L157.43 153.3Z"/><path d="M166.92 152.45L169.22 155.1L166.92 157.75L164.62 155.1Z"/><path d="M174.12 148.25L176.42 150.9L174.12 153.55L171.82 150.9Z"/><path d="M181.31 156.75L183.61 159.4L181.31 162.05L179.01 159.4Z"/><path d="M188.5 144.25L190.8 146.9L188.5 149.55L186.2 146.9Z"/><path d="M195.7 158.65L198 161.3L195.7 163.95L193.4 161.3Z"/><path d="M202.89 157.25L205.19 159.9L202.89 162.55L200.59 159.9Z"/><path d="M210.09 167.95L212.39 170.6L210.09 173.25L207.79 170.6Z"/><path d="M217.28 158.85L219.58 161.5L217.28 164.15L214.98 161.5Z"/><path d="M224.47 161.55L226.77 164.2L224.47 166.85L222.17 164.2Z"/><path d="M231.67 164.25L233.97 166.9L231.67 169.55L229.37 166.9Z"/><path d="M238.86 170.35L241.16 173L238.86 175.65L236.56 173Z"/><path d="M246.06 187.95L248.36 190.6L246.06 193.25L243.76 190.6Z"/><path d="M253.25 188.95L255.55 191.6L253.25 194.25L250.95 191.6Z"/><path d="M260.44 176.75L262.74 179.4L260.44 182.05L258.14 179.4Z"/><path d="M267.64 185.25L269.94 187.9L267.64 190.55L265.34 187.9Z"/><path d="M274.83 187.65L277.13 190.3L274.83 192.95L272.53 190.3Z"/><path d="M282.03 188.45L284.33 191.1L282.03 193.75L279.73 191.1Z"/><path d="M289.22 190.65L291.52 193.3L289.22 195.95L286.92 193.3Z"/><path d="M296.41 197.25L298.71 199.9L296.41 202.55L294.11 199.9Z"/><path d="M303.61 199.45L305.91 202.1L303.61 204.75L301.31 202.1Z"/><path d="M310.8 195.55L313.1 198.2L310.8 200.85L308.5 198.2Z"/><path d="M318 197.15L320.3 199.8L318 202.45L315.7 199.8Z"/><path d="M325.19 206.95L327.49 209.6L325.19 212.25L322.89 209.6Z"/></g><rect x="189.3" y="24.2" width="145.9" height="57.3" fill="#fff" stroke="#383838" stroke-width="1"/><g fill="#ff0000"><rect x="197" y="39.9" width="3.4" height="3.4"/></g><g fill="#0000ff"><path d="M198.7 50.5L201.1 54.9L196.3 54.9Z"/></g><g fill="#00e000"><circle cx="198.7" cy="64" r="1.85"/></g><g fill="#ffff00"><path d="M198.7 72.45L201 75.1L198.7 77.75L196.4 75.1Z"/></g></svg>
<svg class="im" style="left:25px;top:277px" width="56" height="55.5" viewBox="0 0 56 56" preserveAspectRatio="none"><use href="#bldo"/></svg>
<svg class="im" style="left:96px;top:277px" width="56" height="55.5" viewBox="0 0 56 56" preserveAspectRatio="none"><use href="#bldb"/></svg>
<svg class="im" style="left:166px;top:277px" width="56" height="55.5" viewBox="0 0 56 56" preserveAspectRatio="none"><use href="#bldb"/></svg>
<svg class="im" style="left:234.5px;top:277px" width="56" height="55.5" viewBox="0 0 56 56" preserveAspectRatio="none"><use href="#bldb"/></svg>
<svg class="im" style="left:302px;top:277px" width="56" height="55.5" viewBox="0 0 56 56" preserveAspectRatio="none"><use href="#bldb"/></svg>
<svg class="im" style="left:97.5px;top:353.2px" width="56" height="56" viewBox="0 0 56 56" preserveAspectRatio="none"><use href="#bldc"/></svg>
<svg class="im" style="left:166px;top:353.2px" width="56" height="56" viewBox="0 0 56 56" preserveAspectRatio="none"><use href="#bldc"/></svg>
<svg class="im" style="left:234px;top:353.2px" width="56" height="56" viewBox="0 0 56 56" preserveAspectRatio="none"><use href="#bldc"/></svg>
<svg class="im" style="left:302px;top:353.2px" width="56" height="56" viewBox="0 0 56 56" preserveAspectRatio="none"><use href="#bldc"/></svg>
<svg class="im" style="left:25px;top:453px" width="56" height="55.3" viewBox="0 0 56 56" preserveAspectRatio="none"><use href="#zebo"/></svg>
<svg class="im" style="left:95.8px;top:453px" width="56" height="55.3" viewBox="0 0 56 56" preserveAspectRatio="none"><use href="#zebb"/></svg>
<svg class="im" style="left:166.2px;top:453px" width="56" height="55.3" viewBox="0 0 56 56" preserveAspectRatio="none"><use href="#zebb"/></svg>
<svg class="im" style="left:235px;top:453px" width="56" height="55.3" viewBox="0 0 56 56" preserveAspectRatio="none"><use href="#zebb"/></svg>
<svg class="im" style="left:302.2px;top:453px" width="56" height="55.3" viewBox="0 0 56 56" preserveAspectRatio="none"><use href="#zebb"/></svg>
<svg class="im" style="left:95.8px;top:529.1px" width="56" height="55.7" viewBox="0 0 56 56" preserveAspectRatio="none"><use href="#zebc"/></svg>
<svg class="im" style="left:166.2px;top:529.1px" width="56" height="55.7" viewBox="0 0 56 56" preserveAspectRatio="none"><use href="#zebc"/></svg>
<svg class="im" style="left:235px;top:529.1px" width="56" height="55.7" viewBox="0 0 56 56" preserveAspectRatio="none"><use href="#zebc"/></svg>
<svg class="im" style="left:302.2px;top:529.1px" width="56" height="55.7" viewBox="0 0 56 56" preserveAspectRatio="none"><use href="#zebc"/></svg>
<div class="t" style="left:70.2px;top:210.46px;width:200px;margin-left:-200px;text-align:right;font-size:9.9px;color:#333">15%</div>
<div class="t" style="left:70.2px;top:164.04px;width:200px;margin-left:-200px;text-align:right;font-size:9.9px;color:#333">20%</div>
<div class="t" style="left:70.2px;top:117.61px;width:200px;margin-left:-200px;text-align:right;font-size:9.9px;color:#333">25%</div>
<div class="t" style="left:70.2px;top:71.19px;width:200px;margin-left:-200px;text-align:right;font-size:9.9px;color:#333">30%</div>
<div class="t" style="left:70.2px;top:24.76px;width:200px;margin-left:-200px;text-align:right;font-size:9.9px;color:#333">35%</div>
<div class="t" style="left:73.6px;top:219.56px;width:200px;margin-left:-100px;text-align:center;font-size:9.9px;color:#333">0</div>
<div class="t" style="left:109.57px;top:219.56px;width:200px;margin-left:-100px;text-align:center;font-size:9.9px;color:#333">5</div>
<div class="t" style="left:145.54px;top:219.56px;width:200px;margin-left:-100px;text-align:center;font-size:9.9px;color:#333">10</div>
<div class="t" style="left:181.51px;top:219.56px;width:200px;margin-left:-100px;text-align:center;font-size:9.9px;color:#333">15</div>
<div class="t" style="left:217.48px;top:219.56px;width:200px;margin-left:-100px;text-align:center;font-size:9.9px;color:#333">20</div>
<div class="t" style="left:253.45px;top:219.56px;width:200px;margin-left:-100px;text-align:center;font-size:9.9px;color:#333">25</div>
<div class="t" style="left:289.42px;top:219.56px;width:200px;margin-left:-100px;text-align:center;font-size:9.9px;color:#333">30</div>
<div class="t" style="left:325.39px;top:219.56px;width:200px;margin-left:-100px;text-align:center;font-size:9.9px;color:#333">35</div>
<div class="t" style="left:206.4px;top:232.67px;width:200px;margin-left:-100px;text-align:center;font-size:10.5px;color:#333">Object Index</div>
<div class="t" style="left:43.1px;top:117.4px;width:200px;height:10.5px;line-height:10.5px;margin-left:-100px;margin-top:-5.25px;text-align:center;font-size:10.5px;transform:rotate(-90deg);color:#333">RMSE</div>
<div class="t" style="left:11px;top:1.2px;width:200px;margin-left:-100px;text-align:center;font-size:13.8px;color:#111">a</div>
<div class="t" style="left:207.6px;top:37.87px;font-size:8.8px;color:#222">Mosaic</div>
<div class="t" style="left:207.6px;top:48.99px;font-size:8.8px;color:#222">Bicubic</div>
<div class="t" style="left:207.6px;top:60.11px;font-size:8.8px;color:#222">Bilinear</div>
<div class="t" style="left:207.6px;top:71.23px;font-size:8.8px;color:#222">Our algorithm</div>
<div class="t" style="left:268.4px;top:26.57px;font-size:8.8px;color:#222">Averaged RMSE</div>
<div class="t" style="left:319.3px;top:37.87px;width:200px;margin-left:-200px;text-align:right;font-size:8.8px;color:#222">23.81%</div>
<div class="t" style="left:319.3px;top:48.99px;width:200px;margin-left:-200px;text-align:right;font-size:8.8px;color:#222">22.48%</div>
<div class="t" style="left:319.3px;top:60.11px;width:200px;margin-left:-200px;text-align:right;font-size:8.8px;color:#222">21.46%</div>
<div class="t" style="left:319.3px;top:71.23px;width:200px;margin-left:-200px;text-align:right;font-size:8.8px;color:#222">21.04%</div>
<div class="t" style="left:54.6px;top:260.27px;width:200px;margin-left:-100px;text-align:center;font-size:13px;-webkit-text-stroke:0.15px #000;color:#000">Original</div>
<div class="t" style="left:125.4px;top:260.27px;width:200px;margin-left:-100px;text-align:center;font-size:13px;-webkit-text-stroke:0.15px #000;color:#000">Mosaic</div>
<div class="t" style="left:194px;top:260.27px;width:200px;margin-left:-100px;text-align:center;font-size:13px;-webkit-text-stroke:0.15px #000;color:#000">Bicubic</div>
<div class="t" style="left:262.2px;top:260.27px;width:200px;margin-left:-100px;text-align:center;font-size:13px;-webkit-text-stroke:0.15px #000;color:#000">Bilinear</div>
<div class="t" style="left:332px;top:260.27px;width:200px;margin-left:-100px;text-align:center;font-size:13px;-webkit-text-stroke:0.15px #000;color:#000">Our althorithm</div>
<div class="t" style="left:78.5px;top:336.94px;width:200px;margin-left:-200px;text-align:right;font-size:13.3px;-webkit-text-stroke:0.15px #000;color:#000">RMSE</div>
<div class="t" style="left:123.2px;top:336.94px;width:200px;margin-left:-100px;text-align:center;font-size:13.3px;-webkit-text-stroke:0.15px #000;color:#000">0.187</div>
<div class="t" style="left:194.6px;top:336.94px;width:200px;margin-left:-100px;text-align:center;font-size:13.3px;-webkit-text-stroke:0.15px #000;color:#000">0.175</div>
<div class="t" style="left:262.9px;top:336.94px;width:200px;margin-left:-100px;text-align:center;font-size:13.3px;-webkit-text-stroke:0.15px #000;color:#000">0.169</div>
<div class="t" style="left:331px;top:336.94px;width:200px;margin-left:-100px;text-align:center;font-size:13.3px;-webkit-text-stroke:0.15px #000;color:#000">0.166</div>
<div class="t" style="left:78.5px;top:413.24px;width:200px;margin-left:-200px;text-align:right;font-size:13.3px;-webkit-text-stroke:0.15px #000;color:#000">RMSE</div>
<div class="t" style="left:123.2px;top:413.24px;width:200px;margin-left:-100px;text-align:center;font-size:13.3px;-webkit-text-stroke:0.15px #000;color:#000">0.192</div>
<div class="t" style="left:194.6px;top:413.24px;width:200px;margin-left:-100px;text-align:center;font-size:13.3px;-webkit-text-stroke:0.15px #000;color:#000">0.184</div>
<div class="t" style="left:262.9px;top:413.24px;width:200px;margin-left:-100px;text-align:center;font-size:13.3px;-webkit-text-stroke:0.15px #000;color:#000">0.178</div>
<div class="t" style="left:331px;top:413.24px;width:200px;margin-left:-100px;text-align:center;font-size:13.3px;-webkit-text-stroke:0.15px #000;color:#000">0.174</div>
<div class="t" style="left:54.6px;top:431.47px;width:200px;margin-left:-100px;text-align:center;font-size:13px;-webkit-text-stroke:0.15px #000;color:#000">Original</div>
<div class="t" style="left:124.3px;top:431.47px;width:200px;margin-left:-100px;text-align:center;font-size:13px;-webkit-text-stroke:0.15px #000;color:#000">Mosaic</div>
<div class="t" style="left:192.9px;top:431.47px;width:200px;margin-left:-100px;text-align:center;font-size:13px;-webkit-text-stroke:0.15px #000;color:#000">Bicubic</div>
<div class="t" style="left:261.1px;top:431.47px;width:200px;margin-left:-100px;text-align:center;font-size:13px;-webkit-text-stroke:0.15px #000;color:#000">Bilinear</div>
<div class="t" style="left:330.9px;top:431.47px;width:200px;margin-left:-100px;text-align:center;font-size:13px;-webkit-text-stroke:0.15px #000;color:#000">Our althorithm</div>
<div class="t" style="left:78.5px;top:513.44px;width:200px;margin-left:-200px;text-align:right;font-size:13.3px;-webkit-text-stroke:0.15px #000;color:#000">RMSE</div>
<div class="t" style="left:123.2px;top:513.44px;width:200px;margin-left:-100px;text-align:center;font-size:13.3px;-webkit-text-stroke:0.15px #000;color:#000">0.180</div>
<div class="t" style="left:194.6px;top:513.44px;width:200px;margin-left:-100px;text-align:center;font-size:13.3px;-webkit-text-stroke:0.15px #000;color:#000">0.164</div>
<div class="t" style="left:262.9px;top:513.44px;width:200px;margin-left:-100px;text-align:center;font-size:13.3px;-webkit-text-stroke:0.15px #000;color:#000">0.159</div>
<div class="t" style="left:331px;top:513.44px;width:200px;margin-left:-100px;text-align:center;font-size:13.3px;-webkit-text-stroke:0.15px #000;color:#000">0.155</div>
<div class="t" style="left:78.5px;top:589.74px;width:200px;margin-left:-200px;text-align:right;font-size:13.3px;-webkit-text-stroke:0.15px #000;color:#000">RMSE</div>
<div class="t" style="left:123.2px;top:589.74px;width:200px;margin-left:-100px;text-align:center;font-size:13.3px;-webkit-text-stroke:0.15px #000;color:#000">0.185</div>
<div class="t" style="left:194.6px;top:589.74px;width:200px;margin-left:-100px;text-align:center;font-size:13.3px;-webkit-text-stroke:0.15px #000;color:#000">0.170</div>
<div class="t" style="left:262.9px;top:589.74px;width:200px;margin-left:-100px;text-align:center;font-size:13.3px;-webkit-text-stroke:0.15px #000;color:#000">0.163</div>
<div class="t" style="left:331px;top:589.74px;width:200px;margin-left:-100px;text-align:center;font-size:13.3px;-webkit-text-stroke:0.15px #000;color:#000">0.158</div>
<div class="t" style="left:14.9px;top:308px;width:200px;height:11.3px;line-height:11.3px;margin-left:-100px;margin-top:-5.65px;text-align:center;font-size:11.3px;transform:rotate(-90deg);color:#000">Basket-weave</div>
<div class="t" style="left:15px;top:383.4px;width:200px;height:11.3px;line-height:11.3px;margin-left:-100px;margin-top:-5.65px;text-align:center;font-size:11.3px;transform:rotate(-90deg);color:#000">Cartesian</div>
<div class="t" style="left:14px;top:484.3px;width:200px;height:11.3px;line-height:11.3px;margin-left:-100px;margin-top:-5.65px;text-align:center;font-size:11.3px;transform:rotate(-90deg);color:#000">Basket-weave</div>
<div class="t" style="left:14px;top:558.2px;width:200px;height:11.3px;line-height:11.3px;margin-left:-100px;margin-top:-5.65px;text-align:center;font-size:11.3px;transform:rotate(-90deg);color:#000">Cartesian</div>
<div class="t" style="left:10.8px;top:255px;width:200px;margin-left:-100px;text-align:center;font-size:13px;-webkit-text-stroke:0.15px #000;color:#000">b</div>
<div class="t" style="left:11.2px;top:429.6px;width:200px;margin-left:-100px;text-align:center;font-size:12.5px;-webkit-text-stroke:0.15px #000;color:#000">c</div>
<svg class="abs" width="375" height="602" style="pointer-events:none"><path d="M5.4 2Q-1.3 8.4 5.4 14.8M16.2 2Q22.9 8.4 16.2 14.8M5.4 256Q-1.3 261.6 5.4 267.2M17 256Q23.7 261.6 17 267.2M5.4 430.8Q-1.3 436.4 5.4 442M16.2 430.8Q22.9 436.4 16.2 442" stroke="#222" stroke-width="0.9" fill="none"/></svg></body></html>
